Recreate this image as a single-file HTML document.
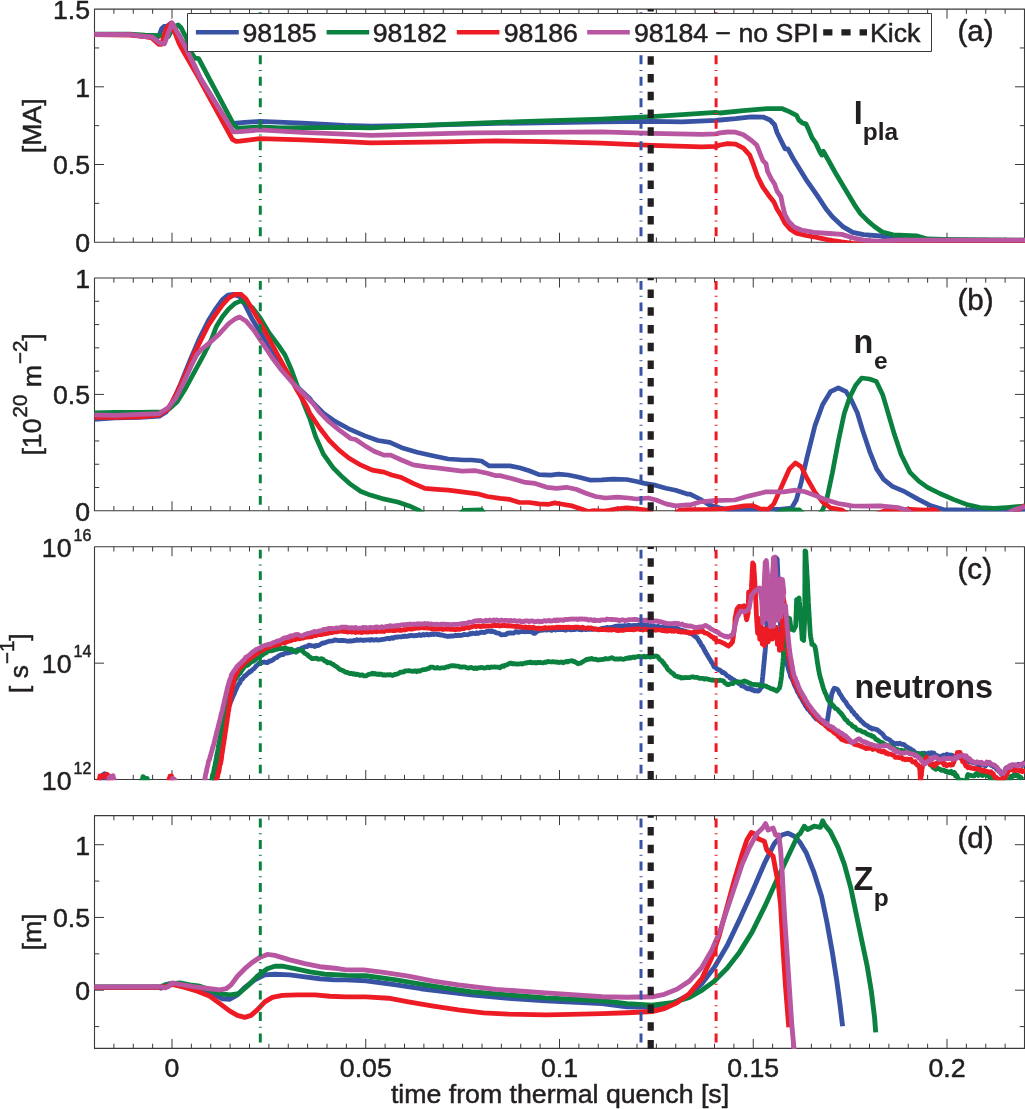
<!DOCTYPE html>
<html><head><meta charset="utf-8"><title>plot</title>
<style>html,body{margin:0;padding:0;background:#fff}svg{display:block}</style></head>
<body>
<svg width="1025" height="1109" viewBox="0 0 1025 1109" font-family='"Liberation Sans", sans-serif' fill="#231F20">
<g stroke="#231F20" stroke-width="0.5" stroke-linejoin="round">
<rect width="1025" height="1109" fill="#fff" stroke="none"/>
<clipPath id="c0"><rect x="94.5" y="9.1" width="931.0" height="233.7"/></clipPath>
<path d="M113.88 9.1v4.7M113.88 242.2v-4.7M133.25 9.1v4.7M133.25 242.2v-4.7M152.62 9.1v4.7M152.62 242.2v-4.7M172.00 9.1v9.5M172.00 242.2v-9.5M191.38 9.1v4.7M191.38 242.2v-4.7M210.75 9.1v4.7M210.75 242.2v-4.7M230.12 9.1v4.7M230.12 242.2v-4.7M249.50 9.1v4.7M249.50 242.2v-4.7M268.88 9.1v4.7M268.88 242.2v-4.7M288.25 9.1v4.7M288.25 242.2v-4.7M307.62 9.1v4.7M307.62 242.2v-4.7M327.00 9.1v4.7M327.00 242.2v-4.7M346.38 9.1v4.7M346.38 242.2v-4.7M365.75 9.1v9.5M365.75 242.2v-9.5M385.12 9.1v4.7M385.12 242.2v-4.7M404.50 9.1v4.7M404.50 242.2v-4.7M423.88 9.1v4.7M423.88 242.2v-4.7M443.25 9.1v4.7M443.25 242.2v-4.7M462.62 9.1v4.7M462.62 242.2v-4.7M482.00 9.1v4.7M482.00 242.2v-4.7M501.37 9.1v4.7M501.37 242.2v-4.7M520.75 9.1v4.7M520.75 242.2v-4.7M540.12 9.1v4.7M540.12 242.2v-4.7M559.50 9.1v9.5M559.50 242.2v-9.5M578.88 9.1v4.7M578.88 242.2v-4.7M598.25 9.1v4.7M598.25 242.2v-4.7M617.62 9.1v4.7M617.62 242.2v-4.7M637.00 9.1v4.7M637.00 242.2v-4.7M656.38 9.1v4.7M656.38 242.2v-4.7M675.75 9.1v4.7M675.75 242.2v-4.7M695.12 9.1v4.7M695.12 242.2v-4.7M714.50 9.1v4.7M714.50 242.2v-4.7M733.88 9.1v4.7M733.88 242.2v-4.7M753.25 9.1v9.5M753.25 242.2v-9.5M772.63 9.1v4.7M772.63 242.2v-4.7M792.00 9.1v4.7M792.00 242.2v-4.7M811.38 9.1v4.7M811.38 242.2v-4.7M830.75 9.1v4.7M830.75 242.2v-4.7M850.13 9.1v4.7M850.13 242.2v-4.7M869.50 9.1v4.7M869.50 242.2v-4.7M888.88 9.1v4.7M888.88 242.2v-4.7M908.25 9.1v4.7M908.25 242.2v-4.7M927.62 9.1v4.7M927.62 242.2v-4.7M947.00 9.1v9.5M947.00 242.2v-9.5M966.38 9.1v4.7M966.38 242.2v-4.7M985.75 9.1v4.7M985.75 242.2v-4.7M1005.13 9.1v4.7M1005.13 242.2v-4.7M94.5 164.50h9.5M1024.5 164.50h-9.5M94.5 86.80h9.5M1024.5 86.80h-9.5M94.5 203.35h4.7M1024.5 203.35h-4.7M94.5 125.65h4.7M1024.5 125.65h-4.7M94.5 47.95h4.7M1024.5 47.95h-4.7" stroke="#3a3a3a" stroke-width="1" fill="none"/>
<rect x="94.5" y="9.1" width="930.0" height="233.1" fill="none" stroke="#3a3a3a" stroke-width="1.1"/>
<g clip-path="url(#c0)">
<path d="M93.7 34.5L130 34.7L145 36.4L158.7 36.5L159.6 34.5L161.6 28.7L164 26.5L167 26.2L171.3 23.3L179.1 35.5L186.5 49.1L199.9 77.4L227.4 122.4L233.6 123.4L244.8 122.4L259.8 121.4L302.3 123.1L344.8 125.4L371 126.1L420.9 125.4L495.9 123.4L600.8 121.9L652 121.4L681.9 121.9L715.9 120.4L720 120L735.6 118.7L751.2 116.9L763.7 117.2L770 120L774.6 124.7L777 132.5L782.4 143.4L785.2 148.9L787.9 148.9L793.4 159L805.9 179.3L816.8 194.9L826.1 209L832.4 216.8L843.3 226.9L852.7 232.4L863.6 234.7L880 236L880.6 236.2L896.2 239L911.8 240.2L1025 240.5" fill="none" stroke="#3953A4" stroke-width="4.8" stroke-linejoin="round" stroke-linecap="butt"/>
<path d="M93.7 34.2L130 34.2L145 35.2L159.6 35.7L168.4 36.5L170.4 32.6L174.3 26.7L178.2 25L181.1 27.7L184 33.5L186.5 37.9L188.7 48.7L194.9 58.1L198.7 58.7L209.9 79.9L233.6 124.4L237.4 127.9L239.9 128.1L259.8 126.9L279.8 127.9L344.8 127.4L371 127.9L445.9 124.4L520.8 121.6L600.8 119.1L652 116.6L715.9 112.4L720 113L743.4 110.6L766.8 108.7L782.4 108.7L788.7 111.4L796.5 115.3L798.8 120L802.7 123.1L805.9 123.9L808.2 128.6L812.1 137.9L816 143.4L819.9 152L821.8 155.1L823.3 151.2L827.7 159L835.5 173L844.9 188.7L854.2 204.3L860.5 213.6L868.3 221.4L874.4 226.5L882.2 232L893.1 234.8L916.5 235.9L927.4 239L943 239.4L1025 240.2" fill="none" stroke="#0B8140" stroke-width="4.8" stroke-linejoin="round" stroke-linecap="butt"/>
<path d="M93.7 34.7L130 35L145 36.7L151.8 37.9L158.7 44.3L161.6 44.3L166.5 28.2L170.9 23.3L172.3 26.2L179.1 43.3L182.1 49.1L198.4 77.4L232.4 139.4L236.1 141.4L239.9 141.1L259.8 138.6L302.3 139.9L344.8 141.6L371 142.9L445.9 141.9L495.9 140.9L545.8 141.6L600.8 143.1L652 145.4L701.9 146.9L715.9 146.4L720 145L727.8 143.7L735.6 144.2L743.4 148.1L749.7 155.1L753.6 165.2L757.5 176.2L762.9 187.1L768.4 194.9L773.9 201.9L777 209L780.9 215.2L784.8 223L790.2 229.2L796.5 233.1L805.9 235.5L816.8 237.4L829.3 240.2L841.8 242L852.7 243.3L880 244.5L896.2 240.8L1025 240.8" fill="none" stroke="#ED1C24" stroke-width="4.8" stroke-linejoin="round" stroke-linecap="butt"/>
<path d="M93.7 34.5L130 34.7L145 36.5L152.3 37L159.6 42.8L164.5 43.8L172.1 22.8L179.1 35.5L186.5 49.1L199.9 77.4L233.6 131.9L239.9 131.6L259.8 129.9L302.3 132.4L344.8 134.1L371 135.4L470.9 132.9L600.8 131.9L652 133.4L701.9 134.4L715.9 133.9L720 132.9L727.8 132L735.6 132.2L743.4 134.8L751.2 140.3L756.7 145L759.8 152.8L762.9 160.6L766 163.7L767.6 171.5L771.5 179.3L774.6 184L777 191L780.9 196.5L782.4 204.3L784.8 214.4L788.7 221.4L794.1 226.9L801.2 230L813.7 232.4L829.3 233.5L841.8 234.4L852.7 237.8L863.6 240.2L880 241.4L896.2 240.2L1025 240.2" fill="none" stroke="#B856A1" stroke-width="4.8" stroke-linejoin="round" stroke-linecap="butt"/>
<line x1="260.3" x2="260.3" y1="242.2" y2="9.1" stroke="#0B8140" stroke-width="3" stroke-dasharray="1 5.9 8.9 5.7" stroke-dashoffset="0.9"/>
<line x1="641.0" x2="641.0" y1="242.2" y2="9.1" stroke="#3953A4" stroke-width="3" stroke-dasharray="1 5.9 8.9 5.7" stroke-dashoffset="0.9"/>
<line x1="716.1" x2="716.1" y1="242.2" y2="9.1" stroke="#ED1C24" stroke-width="3" stroke-dasharray="1 5.9 8.9 5.7" stroke-dashoffset="0.9"/>
<line x1="650.7" x2="650.7" y1="242.2" y2="9.1" stroke="#231F20" stroke-width="6.2" stroke-dasharray="8.5 9.24"/>
</g>
<clipPath id="c1"><rect x="94.5" y="278.0" width="931.0" height="233.4"/></clipPath>
<path d="M113.88 278.0v4.7M113.88 510.8v-4.7M133.25 278.0v4.7M133.25 510.8v-4.7M152.62 278.0v4.7M152.62 510.8v-4.7M172.00 278.0v9.5M172.00 510.8v-9.5M191.38 278.0v4.7M191.38 510.8v-4.7M210.75 278.0v4.7M210.75 510.8v-4.7M230.12 278.0v4.7M230.12 510.8v-4.7M249.50 278.0v4.7M249.50 510.8v-4.7M268.88 278.0v4.7M268.88 510.8v-4.7M288.25 278.0v4.7M288.25 510.8v-4.7M307.62 278.0v4.7M307.62 510.8v-4.7M327.00 278.0v4.7M327.00 510.8v-4.7M346.38 278.0v4.7M346.38 510.8v-4.7M365.75 278.0v9.5M365.75 510.8v-9.5M385.12 278.0v4.7M385.12 510.8v-4.7M404.50 278.0v4.7M404.50 510.8v-4.7M423.88 278.0v4.7M423.88 510.8v-4.7M443.25 278.0v4.7M443.25 510.8v-4.7M462.62 278.0v4.7M462.62 510.8v-4.7M482.00 278.0v4.7M482.00 510.8v-4.7M501.37 278.0v4.7M501.37 510.8v-4.7M520.75 278.0v4.7M520.75 510.8v-4.7M540.12 278.0v4.7M540.12 510.8v-4.7M559.50 278.0v9.5M559.50 510.8v-9.5M578.88 278.0v4.7M578.88 510.8v-4.7M598.25 278.0v4.7M598.25 510.8v-4.7M617.62 278.0v4.7M617.62 510.8v-4.7M637.00 278.0v4.7M637.00 510.8v-4.7M656.38 278.0v4.7M656.38 510.8v-4.7M675.75 278.0v4.7M675.75 510.8v-4.7M695.12 278.0v4.7M695.12 510.8v-4.7M714.50 278.0v4.7M714.50 510.8v-4.7M733.88 278.0v4.7M733.88 510.8v-4.7M753.25 278.0v9.5M753.25 510.8v-9.5M772.63 278.0v4.7M772.63 510.8v-4.7M792.00 278.0v4.7M792.00 510.8v-4.7M811.38 278.0v4.7M811.38 510.8v-4.7M830.75 278.0v4.7M830.75 510.8v-4.7M850.13 278.0v4.7M850.13 510.8v-4.7M869.50 278.0v4.7M869.50 510.8v-4.7M888.88 278.0v4.7M888.88 510.8v-4.7M908.25 278.0v4.7M908.25 510.8v-4.7M927.62 278.0v4.7M927.62 510.8v-4.7M947.00 278.0v9.5M947.00 510.8v-9.5M966.38 278.0v4.7M966.38 510.8v-4.7M985.75 278.0v4.7M985.75 510.8v-4.7M1005.13 278.0v4.7M1005.13 510.8v-4.7M94.5 394.40h9.5M1024.5 394.40h-9.5M94.5 487.52h4.7M1024.5 487.52h-4.7M94.5 464.24h4.7M1024.5 464.24h-4.7M94.5 440.96h4.7M1024.5 440.96h-4.7M94.5 417.68h4.7M1024.5 417.68h-4.7M94.5 371.12h4.7M1024.5 371.12h-4.7M94.5 347.84h4.7M1024.5 347.84h-4.7M94.5 324.56h4.7M1024.5 324.56h-4.7M94.5 301.28h4.7M1024.5 301.28h-4.7" stroke="#3a3a3a" stroke-width="1" fill="none"/>
<rect x="94.5" y="278.0" width="930.0" height="232.8" fill="none" stroke="#3a3a3a" stroke-width="1.1"/>
<g clip-path="url(#c1)">
<path d="M93.7 419.4L115 417.9L140 417.4L159.9 416.1L160 415.8L166.2 411.9L172.5 401.8L180.3 384.6L189.7 361.2L199 339.3L208.4 320.6L216.2 308.1L222.4 299.5L227.9 295.1L233.4 294.4L239.6 296.4L245.1 305L252.1 319L259.9 331.5L269.3 348.7L284.9 372.1L297.4 386.9L309.9 398.6L311.7 401.5L323.4 413.2L335.1 421.4L348.8 428.8L364.4 435.6L378 440.5L389.8 442.4L403.4 448.3L417.1 452.2L432.7 455.7L448.3 459L463.9 460L471.7 460L481.5 461L489.3 465.9L500 465.9L509.8 465.9L519.5 467.8L529.3 470.7L539 474.6L550.7 475.2L558.5 474.2L568.3 475L578 477L589.8 480.1L601.5 479.9L613.2 479.1L626.8 479.5L636.6 481.5L644.4 483.4L656.1 485.4L665.9 488.3L675.6 490.2L687.3 494.1L690 494.1L699.8 499L709.5 504.9L719.3 507.8L729 509.8L748.5 509.8L768 509.4L779.8 509.4L791.5 508.2L796.3 500L801.2 482.4L807.1 457.1L814.9 425.9L822.7 404.4L830.5 391.7L838.3 387.8L846.1 391.7L851.1 399.5L857.3 412.7L862.6 430.2L869.6 451.3L876.6 468.9L883.6 479.4L892.4 486.4L904.7 491.7L918.8 499.6L931 505.8L943.3 509.6L967.9 510.1L985.5 510.5L1025 511" fill="none" stroke="#3953A4" stroke-width="4.7" stroke-linejoin="round" stroke-linecap="butt"/>
<path d="M93.7 412.9L115 412.4L140 412.4L162.4 411.9L169.4 408.8L177.2 401.8L185 389.3L194.3 372.1L203.7 354.9L211.5 339.3L216.2 326.8L222.4 316.7L228.7 308.9L234.9 303.4L240.4 301.1L245.9 302.6L252.1 307.3L259.9 317.5L269.3 333.1L278.6 345.6L284.9 354.9L291.1 369L297.4 386.1L303.6 403.3L309.9 418.9L315.6 436.6L323.4 454.1L333.2 467.8L342.9 477.6L350.7 484.4L360.5 491.2L370.2 495.1L382 498.6L397.6 502L409.3 505.9L419 510.3L428.8 517.6L456.1 517.6L463.9 510.3L481.5 509.8L487.3 517.6L768 517.6L783.7 509.8L799.3 509.8L807.1 517.6L816.8 517.6L822.7 509.8L826.6 500L832.4 472.7L838.3 441.5L844.1 414.1L850 396.6L855.9 384.9L861.7 378L869.5 379L876.3 381.4L876.6 382L882.8 395.1L888 412.7L894.2 433.8L901.2 454.8L910 472.4L918.8 481.2L927.5 487.3L939.8 493.5L953.9 499.6L967.9 504.9L980.2 507.5L994.3 508.4L1006.6 507.5L1017.1 506.6L1025 506.1" fill="none" stroke="#0B8140" stroke-width="4.7" stroke-linejoin="round" stroke-linecap="butt"/>
<path d="M93.7 417.4L115 417.4L140 416.9L159.9 414.9L160 414.2L167.8 409.6L175.6 395.5L185 375.2L194.3 353.4L202.1 337.8L208.4 325.3L214.6 315.9L222.4 305L228.7 298L234.9 294.4L241.2 294.4L245.9 298.7L252.1 308.9L259.9 322.1L269.3 339.3L278.6 356.5L288 373.7L297.4 390.8L306.7 406.4L309.8 413.2L319.5 427.8L329.3 440.5L339 450.2L348.8 458L360.5 464.9L372.2 470.1L383.9 472.1L391.7 475L401.5 477.6L413.2 483.4L424.9 488.3L436.6 489.3L448.3 490.2L463.9 492.2L477.6 493.8L487.3 496.5L500 498.4L509.8 499.4L519.5 502.5L529.3 502.5L539 503.9L548.8 504.3L554.6 502.9L562.4 504.3L572.2 505.9L582 509.2L587.8 511.5L593.7 510.7L603.4 511.1L609.3 510.3L617.1 508.8L626.8 507.8L636.6 508.8L648.3 510.3L656.1 517.6L671.7 517.6L679.5 510.3L687.3 509.6L709.5 509.4L725.1 508.8L734.9 507.4L744.6 505.9L752.4 505.5L760.2 508.8L768 509.4L773.9 503.9L781.7 486.3L789.5 468.8L795.4 462.9L801.2 466.8L807.1 478.5L814.9 492.2L822.7 502L830.5 507.8L842.2 510.1L852 517.6L871.3 516.3L885.4 510.5L910 509.3L924 510.1L934.6 509.6L943.3 516.3L1011.8 516.3L1022.4 506.6L1025 505.8" fill="none" stroke="#ED1C24" stroke-width="4.7" stroke-linejoin="round" stroke-linecap="butt"/>
<path d="M93.7 414.9L115 415.4L140 414.4L159.9 413.6L160 412.7L167.8 408L175.6 398.6L183.4 383L191.2 365.9L196.7 354.9L201.4 349.5L210 342.4L219.3 333.9L228.7 323.7L234.9 319L239.6 317L245.9 320.9L253.7 330L263 344L272.4 358L281.8 370.5L292.7 383L303.6 394L313 403.3L319.5 412.2L329.3 422L339 429.8L350.7 438.5L355.6 439.5L364.4 445.4L374.1 451.2L383.9 455.1L390.7 455.1L401.5 460L413.2 464.9L426.8 466.8L436.6 467.8L448.3 469.4L462 471.1L475.6 470.7L487.3 473.3L495.1 475.6L500 475.6L511.7 478.5L525.4 482.4L535.1 483.4L546.8 487.3L556.6 488.3L566.3 487.3L576.1 489.3L585.9 493.2L595.6 496.5L605.4 498L617.1 497.1L628.8 498L636.6 499L648.3 498L656.1 500L665.9 503.9L675.6 505.9L687.3 504.9L690 504.9L699.8 502L713.4 500.6L734.9 500L748.5 496.1L766.1 491.8L783.7 491.8L795.4 490.2L805.1 491.8L816.8 496.1L826.6 500L838.3 503.5L852 505.9L862.6 506.1L880.1 505.8L897.7 507.5L906.5 510.1L915.2 515.4L1003 515.4L1013.6 510.1L1025 506.6" fill="none" stroke="#B856A1" stroke-width="4.7" stroke-linejoin="round" stroke-linecap="butt"/>
<line x1="260.3" x2="260.3" y1="510.8" y2="278.0" stroke="#0B8140" stroke-width="3" stroke-dasharray="1 5.9 8.9 5.7" stroke-dashoffset="0.9"/>
<line x1="641.0" x2="641.0" y1="510.8" y2="278.0" stroke="#3953A4" stroke-width="3" stroke-dasharray="1 5.9 8.9 5.7" stroke-dashoffset="0.9"/>
<line x1="716.1" x2="716.1" y1="510.8" y2="278.0" stroke="#ED1C24" stroke-width="3" stroke-dasharray="1 5.9 8.9 5.7" stroke-dashoffset="0.9"/>
<line x1="650.7" x2="650.7" y1="510.8" y2="278.0" stroke="#231F20" stroke-width="6.2" stroke-dasharray="8.5 9.24"/>
</g>
<clipPath id="c2"><rect x="94.5" y="546.8" width="931.0" height="233.35"/></clipPath>
<path d="M113.88 546.8v4.7M113.88 779.55v-4.7M133.25 546.8v4.7M133.25 779.55v-4.7M152.62 546.8v4.7M152.62 779.55v-4.7M172.00 546.8v9.5M172.00 779.55v-9.5M191.38 546.8v4.7M191.38 779.55v-4.7M210.75 546.8v4.7M210.75 779.55v-4.7M230.12 546.8v4.7M230.12 779.55v-4.7M249.50 546.8v4.7M249.50 779.55v-4.7M268.88 546.8v4.7M268.88 779.55v-4.7M288.25 546.8v4.7M288.25 779.55v-4.7M307.62 546.8v4.7M307.62 779.55v-4.7M327.00 546.8v4.7M327.00 779.55v-4.7M346.38 546.8v4.7M346.38 779.55v-4.7M365.75 546.8v9.5M365.75 779.55v-9.5M385.12 546.8v4.7M385.12 779.55v-4.7M404.50 546.8v4.7M404.50 779.55v-4.7M423.88 546.8v4.7M423.88 779.55v-4.7M443.25 546.8v4.7M443.25 779.55v-4.7M462.62 546.8v4.7M462.62 779.55v-4.7M482.00 546.8v4.7M482.00 779.55v-4.7M501.37 546.8v4.7M501.37 779.55v-4.7M520.75 546.8v4.7M520.75 779.55v-4.7M540.12 546.8v4.7M540.12 779.55v-4.7M559.50 546.8v9.5M559.50 779.55v-9.5M578.88 546.8v4.7M578.88 779.55v-4.7M598.25 546.8v4.7M598.25 779.55v-4.7M617.62 546.8v4.7M617.62 779.55v-4.7M637.00 546.8v4.7M637.00 779.55v-4.7M656.38 546.8v4.7M656.38 779.55v-4.7M675.75 546.8v4.7M675.75 779.55v-4.7M695.12 546.8v4.7M695.12 779.55v-4.7M714.50 546.8v4.7M714.50 779.55v-4.7M733.88 546.8v4.7M733.88 779.55v-4.7M753.25 546.8v9.5M753.25 779.55v-9.5M772.63 546.8v4.7M772.63 779.55v-4.7M792.00 546.8v4.7M792.00 779.55v-4.7M811.38 546.8v4.7M811.38 779.55v-4.7M830.75 546.8v4.7M830.75 779.55v-4.7M850.13 546.8v4.7M850.13 779.55v-4.7M869.50 546.8v4.7M869.50 779.55v-4.7M888.88 546.8v4.7M888.88 779.55v-4.7M908.25 546.8v4.7M908.25 779.55v-4.7M927.62 546.8v4.7M927.62 779.55v-4.7M947.00 546.8v9.5M947.00 779.55v-9.5M966.38 546.8v4.7M966.38 779.55v-4.7M985.75 546.8v4.7M985.75 779.55v-4.7M1005.13 546.8v4.7M1005.13 779.55v-4.7M94.5 663.17h9.5M1024.5 663.17h-9.5" stroke="#3a3a3a" stroke-width="1" fill="none"/>
<rect x="94.5" y="546.8" width="930.0" height="232.75" fill="none" stroke="#3a3a3a" stroke-width="1.1"/>
<g clip-path="url(#c2)">
<path d="M101 782.3L101.2 781.4L101.5 780.6L101.8 778.2L102 775.8L102.2 776.7L102.5 775.1L104.5 773.7L104.8 774.5L105 778.2L105.2 779L105.5 778.8L105.8 780.8L106 781.9M213.4 785.4L213.7 782L213.9 782.4L214.2 780.3L214.4 777L214.6 777.5L214.9 775.3L215.1 775L215.3 773.8L215.5 771.1L215.8 769.3L216 770.1L216.2 767.5L216.4 767.4L216.6 765.5L216.9 764.3L217.1 763.2L217.3 761.4L217.5 759.7L217.8 757.6L218 757.7L218.2 755.8L218.5 754.7L218.7 754.2L218.9 751.5L219.2 751.3L219.4 748.8L219.6 748.6L219.8 747.4L220.1 745.4L220.3 744.5L220.5 743.7L220.8 742L221 740.6L221.2 739L221.5 737.5L221.7 736.6L222 735.3L222.2 733.8L222.5 732.7L222.7 731.2L223 730.6L223.2 729.2L223.5 727.5L223.7 726.2L224 725.2L224.2 723.9L224.4 723.1L224.7 721.2L224.9 719.9L225.2 719.3L225.4 717.2L225.7 716.3L225.9 714.8L226.2 714.1L226.4 712.5L226.7 711.5L227.2 709.6L227.8 708.9L228.3 707.5L228.9 706.1L229.4 705.2L230 704L230.5 702L231.1 700.9L231.6 699.8L232.1 698.4L232.7 697L233.2 696L233.7 694.7L234.2 694L234.7 692.6L235.3 691L235.8 690L236.3 688.9L236.8 687.6L237.5 686.2L238.2 684.8L238.8 683.5L239.5 683.4L240.2 681.9L240.8 679.9L241.5 679.4L242.6 678.8L243.6 677.4L244.6 676L245.7 675.5L246.7 674.5L247.8 673.4L248.8 672.8L249.8 671.3L250.9 671.4L251.9 670.2L253 669.3L254 668.7L255 667.5L256.1 666.1L257.1 665.2L258.2 664.2L259.2 663.2L260.2 663.1L261.5 663L262.8 662.3L264.1 662L265.4 662.4L266.7 662.5L268 662.5L269.3 661L270.5 661.1L271.8 660.5L273 659.8L274.3 658.7L275.5 657.8L276.8 657.7L278 656.3L279.3 655.6L280.5 655L281.8 654.4L283.1 654.6L284.4 653.5L285.7 652.9L287 653.1L288.3 652.8L289.7 652.6L291.1 652.1L292.4 651.9L293.8 651.6L295.2 650.7L296.5 650.3L297.9 649.5L299.3 649.3L300.6 649L301.9 647.9L303.3 648L304.6 646.9L306 646.7L307.3 646.7L308.6 645.2L310.2 645.3L311.8 645.9L313.3 645.9L314.9 646.6L316.2 645.3L317.5 645.7L318.8 645.2L320.1 644.6L321.4 643.7L322.7 643L324 643.1L325.4 642.5L326.8 642L328.1 641.5L329.5 641.2L330.9 641.1L332.2 640.9L333.6 640.6L334.9 639.9L336.3 640.1L337.6 640.4L339 640.7L340.3 640.5L341.6 640.5L343 640.5L344.4 640.7L345.7 640.7L347.1 641.2L348.5 641.1L349.9 640.9L351.2 641L352.6 640.9L354 640.4L355.4 640.6L356.8 639.7L358.1 640.3L359.5 640.1L360.8 639.8L362.1 640.1L363.4 640.5L364.7 640L366 640.2L367.3 639.8L368.6 639.8L369.9 640.4L371.2 639.5L372.5 639.7L373.8 640.2L375.1 639.9L376.4 639.5L377.7 640.2L379 639.9L380.3 639.9L381.6 639.5L382.9 639.4L384.2 639.3L385.5 638.9L386.8 638.4L388.1 638.3L389.4 638.9L390.7 638.3L392 637.6L393.3 638.3L394.6 637.4L395.9 637L397.2 637.3L398.5 636.8L399.8 636.9L401.1 636.9L402.4 636.4L403.7 636.6L405 636L406.3 636.3L407.6 636.3L408.9 635.6L410.2 635.8L411.5 635.3L412.8 635.6L414.1 635.9L415.4 635.4L416.7 635.5L418 635.4L419.3 634.6L420.7 635.5L422 635.1L423.3 634.4L424.6 635.1L425.9 634.5L427.2 634.2L428.5 635L429.8 634.5L431.1 634.6L432.4 633.8L433.7 634.5L435 633.9L436.4 634.2L437.8 634.6L439.1 634.4L440.5 635.2L441.9 635L443.2 635.3L444.6 635.9L446 635.8L447.3 636.5L448.7 636.1L450 636.3L451.4 635.9L452.8 636.2L454.1 636L455.5 635.1L456.9 635.7L458.2 635.1L459.6 635.5L461 635.3L462.3 635.3L463.6 634.4L464.9 634.5L466.2 634.7L467.5 634.8L468.8 634.4L470.1 633.5L471.4 633.9L472.7 633.2L474 633.5L475.3 633.7L476.6 632.7L477.9 633.5L479.2 633L480.5 632.4L481.8 632.2L483.1 632.3L484.4 632.6L485.7 632.1L487 631.4L488.3 631.2L489.6 631.1L490.9 631.7L492.2 630.9L493.6 631.8L495 632L496.4 632.9L497.8 633.1L499.2 633.3L500.6 634.6L502 634.8L503.3 634.7L504.7 634.6L506 634.5L507.4 633.2L508.8 633.3L510.1 632.8L511.5 633L512.9 633.1L514.2 632.8L515.6 631.7L516.9 631.7L518.2 632.3L519.5 632.1L520.8 631.6L522.1 631.6L523.4 631.2L524.7 631.8L526 631.2L527.3 631.6L528.6 631.7L529.9 631.4L531.2 632L532.5 632.2L533.8 633.3L535.1 633.3L536.3 631.9L537.6 631.3L538.8 630.8L540 630.2L541.3 630.3L542.6 630L543.9 630L545.2 629.5L546.5 630.1L547.8 629.8L549.1 629.4L550.4 629.9L551.7 630.4L553 629.4L554.3 629.4L555.6 630L556.9 629.5L558.2 629.4L559.5 629.7L560.8 629.4L562.1 629.7L563.4 629.6L564.7 630.1L566 630.1L567.3 629L568.6 629.5L569.9 629.7L571.2 629.8L572.5 629.7L573.8 629.5L575.1 629.5L576.4 629.2L577.7 629.1L579 629.6L580.3 629.7L581.6 629.8L582.9 629.5L584.2 629.1L585.5 629.6L586.8 629.5L588.1 629.3L589.4 629.4L590.7 629.1L592 629.3L593.3 629.2L594.6 628.8L595.9 629.1L597.2 629.1L598.5 629.8L599.8 629.1L601.1 628.7L602.4 628.4L603.7 628.2L605 628.1L606.3 627.7L607.6 627.4L608.9 628.1L610.2 627.5L611.5 627.3L612.8 627.2L614.1 626.7L615.4 626.4L616.7 626.1L618 626.1L619.3 625.9L620.7 626.2L622 625.8L623.3 626.2L624.6 625.5L625.9 626.2L627.2 625.8L628.5 625.2L629.8 625.3L631.1 625.7L632.4 626.1L633.7 625.4L635 625.8L636.3 625.4L637.6 625.9L638.9 625L640.2 625.4L641.5 625.9L642.8 625.2L644.1 625.1L645.4 624.8L646.7 625.1L648 625.4L649.3 626L650.6 625.5L651.9 625.9L653.2 625.8L654.5 626.3L655.8 626.7L657.1 626.6L658.4 626.3L659.7 627L661 627.3L662.3 627.1L663.6 626.6L664.9 627.5L666.2 627.7L667.5 627.3L668.8 627.2L670.1 627.3L671.4 627.8L672.7 628.3L674 628.2L675.3 628.6L676.6 628L677.9 628.6L679.2 629.5L680.5 629.9L681.8 630.1L683.1 630.9L684.4 631L685.7 631.2L687 632.1L688.3 632.2L689.6 633.3L690.9 633.5L692.2 634.1L693.4 635.2L694.5 635.8L695.7 637L696.9 637.5L698 639.5L698.7 640.2L699.3 641.8L700 642L700.7 643.7L701.3 645L702 645.7L702.6 646.5L703.3 647.8L703.9 648.9L704.6 650.7L705.2 651.1L705.9 653L706.6 653.8L707.3 655L708 656.2L708.7 657.4L709.4 658.6L710.1 659.7L710.8 660.6L711.5 662.2L712.2 662.8L712.9 664.4L713.7 665.7L714 666.8L715.2 667.1L716.4 668.4L717.6 669.4L718.7 669.6L719.9 670.2L721.1 671.2L722.2 672.5L723.4 672.4L724.5 673L725.6 674.3L726.7 675.3L727.8 676.2L728.9 676.5L730 678L731.1 677.9L732.2 679.3L733.2 679.4L734.3 680.1L735.6 681L736.8 681.7L738 682.9L739.2 683.8L740.4 684.1L741.6 685.8L742.8 685.9L744.1 686.4L745.3 687.3L746.6 688.3L747.9 688.9L749.2 688.4L750.5 688.7L751.8 689.9L753.1 689.7L754.4 690.8L755.8 690.6L757.2 691L758.5 691L759.3 690.4L760.1 689L760.9 687.7L761.7 687.3L761.8 685.1L761.9 684.5L762 682.4L762.2 681.8L762.3 680.2L762.4 679.4L762.6 677.2L762.7 676.5L762.8 675L763 674.3L763.1 673L763.2 671.4L763.3 669.6L763.5 668.3L763.6 667.1L763.7 665.9L763.9 664.4L764 663.1L764.1 662.4L764.2 660.9L764.4 659.2L764.5 658.7L764.6 656.5L764.7 655.6L764.8 653.8L765 653.2L765.1 651.9L765.2 650L765.3 649.2L765.4 647.9L765.6 646L765.6 644.7L765.7 643.6L765.8 642.7L765.9 640.6L766 639.9L766.1 638.5L766.1 637L766.2 635.8L766.3 634.9L766.4 632.8L766.5 632.2L766.6 630.4L766.7 629.5L766.7 628.3L766.8 626.2L766.9 625.7L767 624.5L767.1 622.4L767.2 620.8L767.2 619.6L767.3 619.2L767.5 616.8L767.7 616.5L767.9 614.3L768.1 613.6L768.3 611.5L768.5 610.3L768.7 609.5L768.9 607.5L769.1 606.4L769.3 605.7L769.5 604.1L769.7 603L769.9 601.7L770.2 599.3L770.4 598.2L770.5 597.5L770.6 596.1L770.7 594L770.9 593.2L771 591.6L771.1 590.5L771.3 588.8L771.4 587.4L771.5 587.2L771.7 585.1L771.8 584.4L771.9 582.3L772.1 581.4L772.2 579.7L772.3 578.7L772.5 577.1L772.6 576.3L772.7 574.4L772.9 573.7L773 572.2L773.1 570.4L773.3 569.4L773.4 568.2L773.7 567.4L774 565.5L774.3 564.1L774.6 563.7L775 562.3L775.3 560.9L775.6 559.1L775.9 557.7L777.2 558.9L777.3 560L777.3 561.3L777.4 563.1L777.4 564.3L777.5 565.8L777.5 566.9L777.6 567.8L777.7 569.9L777.7 571.2L777.8 572.4L777.8 573.7L777.9 575.2L777.9 576.8L778 578L778.1 579.2L778.1 580.2L778.2 581.5L778.2 582.9L778.3 584.9L778.4 585.6L778.4 586.9L778.5 588.3L778.6 589.4L778.6 591.6L778.7 591.9L778.8 593.9L778.8 595.6L778.9 596.2L778.9 598L779 599L779.1 600.2L779.1 601.5L779.2 602.8L779.3 604.9L779.3 606.2L779.4 607.7L779.4 608.1L779.5 610.1L779.6 611L779.7 612.7L779.8 613.9L779.9 615L780 617L780.1 617.3L780.1 619.4L780.2 620.9L780.3 621.8L780.4 623.2L780.5 625L780.6 625.4L780.7 627.2L780.8 628.6L780.8 629.6L780.9 631.2L781 632.2L781.1 633.7L781.2 635.1L781.3 636.5L781.4 637.4L781.5 639.1L781.6 640.3L781.8 641.4L782 643.2L782.2 644.2L782.4 646.2L782.6 647.1L782.8 648.8L782.9 650L783.1 651.3L783.3 652.4L783.5 653.7L784.2 656.1L784.9 657.2L785.5 658.8L785.9 660.1L786.3 661.7L786.7 662.4L787.1 663.7L787.5 665.7L787.8 666.6L788.2 668.1L788.6 669.7L789 671.1L789.4 672.3L789.8 672.8L790.2 674.5L790.5 676.3L791.1 677.5L791.7 678L792.2 679.4L792.8 680.7L793.4 681.9L793.9 683.4L794.5 685.2L795.1 686.1L795.6 687.3L796.2 688.2L796.8 689.8L797.4 691.6L798 692.5L798.7 693.3L799.3 694.5L799.9 696L800.5 697.1L801.2 697.6L801.8 699.3L802.4 700.1L803 701.4L803.6 702.3L804.3 703.5L804.9 704.7L805.5 705.8L806.1 706.6L807 707.8L807.8 709.2L808.7 709.6L809.6 710.7L810.4 712.3L811.3 712.8L812.1 713.9L813 714.8L813.8 716.4L814.7 716.6L815.5 718.2L816.6 719.2L817.7 719.3L818.9 720.3L820 721.5L821.1 722.1L822.2 722.6L823.3 723L824.6 722.7L825.9 721.8L827.2 721.4L827.5 719.5L827.7 718.3L827.9 717.1L828.2 715.9L828.4 714L828.6 712.6L828.9 711.4L829.1 710.4L829.3 708.2L829.6 707.6L829.8 706L830 704.2L830.3 703.1L830.5 701.3L830.7 699.6L831 699L831.2 697.2L831.4 695.9L831.7 694.5L831.9 693.5L832.5 692.2L833.1 690.2L833.7 689.7L834.2 688.3L835.8 688.7L837.4 689.5L838.1 690.4L838.9 691.9L839.7 693.7L840.5 694.6L841.2 695.8L842 696.9L842.7 698.4L843.5 699.3L844.2 700.5L845 701.3L845.8 702L846.6 703.8L847.3 704.7L848.1 706L848.9 707.1L849.7 707.4L850.5 708.6L851.2 709.5L852 711.4L852.9 711.6L853.8 712.6L854.7 714.2L855.5 715L856.4 715.4L857.3 717.1L858.2 718.1L859 718.8L859.9 719.3L860.8 720.9L861.9 721.5L863 722.6L864.1 723.9L865.2 724.6L866.3 725.5L867.4 725.6L868.5 726.7L869.6 727.8L870.8 727.6L872.1 729L873.3 728.6L874.6 729L875.9 729.4L877.1 729.7L878.4 730.8L879.4 731.5L880.4 732.4L881.4 733.3L882.4 733.9L883.4 735.2L884.4 736.8L885.4 737.7L886.5 738.6L887.6 738.7L888.7 739.4L889.8 739.9L890.9 741.3L892 741.9L893.1 742.7L894.2 743.5L895.6 743.7L897 743.4L898.4 744L899.8 743.2L901.2 744.1L902.4 744.4L903.7 744.4L905 745.5L906.2 746.6L907.5 747.2L908.7 748.2L910 748.5L911.1 749.2L912.3 750.8L913.5 750.7L914.7 752.1L915.8 753L917 753.4L918.5 753.3L919.9 754.3L921.4 753.6L922.9 754.5L924.3 753.1L925.8 754L927.2 754.2L928.6 752.9L930 754.2L931.4 752.6L932.8 753.4L934 753.2L935.1 755.2L936.3 755.1L937.5 756.1L938.7 756.1L939.8 757.1L941.2 756.7L942.6 755.6L944 755.1L945.4 756L946.9 754.3L948.3 756L949.7 755L951.1 755.1L952.5 755.3L953.9 756.9L955.3 757.5L956.7 756.7L958.1 757.4L959.5 756.9L960.9 758.4L962.2 758.4L963.5 757.8L964.9 758L966.2 759.8L967.5 759.2L968.8 761.6L970.1 761.2L971.4 761.8L972.8 762.8L974.2 762.5L975.7 763.3L977.1 762.7L978.5 764.7L979.9 763.6L981.3 765L982.7 763.6L984.1 765.3L985.5 765.9L987.2 763.9L989 762.4L990.2 764L991.3 765.4L992.5 765.2L993.7 766.8L994.9 766.5L996 768.2L997 769.8L998 769.9L999 771.5L1000 770.9L1001 773.7L1002 772.7L1003 775.8L1003.6 774.8L1004.2 773.3L1004.8 771L1005.4 769.2L1006 768.1L1006.6 767.9L1008 767L1009.4 767.7L1010.8 765.5L1012.2 766.1L1013.6 766.7L1015 766L1016.4 765.7L1017.8 764.5L1019.2 764.5L1020.6 764.6L1022.1 765.6L1023.5 765L1025 763.1" fill="none" stroke="#3953A4" stroke-width="4.8" stroke-linejoin="round" stroke-linecap="butt"/>
<path d="M141 784.2L141.5 780.1L142 780.3L142.5 779.9L143 776.6L145 778.3L146 778.8L147 778.4L148 780.5L148.5 782.4L149 783.3M211.1 785.2L211.3 781.9L211.6 782L211.9 779L212.2 776.9L212.5 777L212.8 774.3L213.1 774.2L213.4 773.4L213.7 771.5L214 769.8L214.4 767.4L214.7 767.2L215 764.9L215.2 764.9L215.4 762.4L215.7 762.1L215.9 760.4L216.1 759.1L216.4 758.4L216.6 756.2L216.8 754.9L217 755L217.3 752.7L217.5 752.3L217.7 751L218 749.1L218.2 747.3L218.4 745.9L218.6 745.8L218.9 743.4L219.1 742.6L219.4 741.3L219.7 739.4L219.9 738.5L220.2 736.8L220.4 735.9L220.7 734.5L221 733L221.2 731.4L221.5 730.3L221.7 728.7L222 727.3L222.3 726.1L222.5 725.4L222.8 723.7L223.1 722.8L223.4 720.6L223.7 720.3L224 718.6L224.2 717.6L224.5 716.1L224.8 715L225.1 713.2L225.4 712.5L225.7 710.6L226 709.4L226.3 707.9L226.6 707.1L226.9 705.9L227.2 704.4L227.5 703.8L227.8 701.6L228.2 700.9L228.6 699.2L228.9 698.3L229.3 697.3L229.7 695.9L230 693.9L230.4 692.8L230.8 691.9L231.1 691L231.5 688.7L231.9 688.1L232.2 686.9L232.6 685.7L233 683.9L233.3 683.1L233.7 681.5L234.5 680.9L235.3 678.9L236 678.8L236.8 677.2L237.6 676.1L238.4 674.7L239.2 673.8L240 673.3L240.7 672.2L241.5 670.5L242.3 669.7L243.1 668.4L243.9 667.4L244.6 666.4L245.7 665.7L246.9 665.6L248 664.9L249.1 663.9L250.2 662.8L251.3 662L252.4 661.5L253.6 661L254.7 660.2L255.8 659.4L256.9 658.2L258 658L259.1 657.6L260.2 656.9L261.4 655.3L262.5 655.2L263.6 654L264.7 653L265.8 653.1L266.9 652L268 651.3L269.4 650.3L270.7 650.8L272.1 650.6L273.4 650.2L274.7 649.7L276.1 649.4L277.4 649.1L278.7 648.7L280 648.4L281.3 648.7L282.6 648.5L283.9 648.5L285.2 647.7L286.8 648.8L288.3 648.8L289.9 649.6L291.5 649.1L292.6 650.6L293.8 651L295 651L296.1 652.2L297.7 650.9L299.3 650.3L300.8 649.9L302 650.5L303.2 651.7L304.3 653L305.5 653.6L306.6 654.4L307.6 654.9L308.6 656.1L309.7 656.9L310.7 657.5L311.8 658.6L313.3 658.7L314.9 658.4L316.4 658.2L318 659L319.6 659.2L321.1 658.7L322.7 659L323.9 660.2L325 661.2L326.2 661.3L327.4 662.8L328.9 662.5L330.5 662.9L332 663.9L333.1 664.3L334.1 665.2L335.2 665.9L336.2 666.5L337.3 667.1L338.3 668.1L339.5 669.3L340.8 669.8L342 670.2L343.3 670.7L344.5 671.6L346 672.4L347.4 672.5L348.8 673.2L350.3 673.7L351.7 673.3L353.1 674.2L354.4 673.6L355.8 674.7L357.2 674.2L358.5 674.5L359.9 675.4L361.3 675L362.6 675L364 675.9L365.4 675.8L366.7 675.6L368.1 674.6L369.5 674.2L370.8 674.2L372.2 673.2L373.6 674L374.9 673.4L376.3 674.4L377.7 673.9L379 674.6L380.4 674L381.8 674.3L383.1 675.2L384.5 674.7L385.9 675.2L387.2 674.6L388.6 674.8L390 674.6L391.3 675.1L392.7 675.5L393.9 674.7L395.2 674.2L396.4 674.4L397.6 673.9L398.9 673.3L400.1 672.2L401.4 672.4L402.6 671.8L403.9 672L405.1 670.9L406.3 670.8L407.6 670.8L408.9 670.6L410.2 670.9L411.5 671.1L412.8 671.4L414.1 671L415.4 670.9L416.7 671.7L418 670.7L419.4 671.2L420.8 670.6L422.1 670.1L423.5 669.6L424.9 669.5L426.2 669.3L427.6 668.7L429 668.4L430.3 667.2L431.7 667.1L433.1 667.1L434.5 668.1L435.9 668.2L437.3 667.5L438.7 668.1L440.1 668.2L441.5 667.8L442.8 667.8L444.1 667.9L445.4 667.5L446.7 666.8L448 667L449.3 666.1L450.6 666.1L451.9 665.6L453.2 665.9L454.5 665.7L455.8 666.1L457.1 666.2L458.4 666.1L459.7 667L461 666.9L462.3 667.1L463.6 666.9L464.9 666.9L466.2 667.5L467.5 667.9L468.8 668L470.1 667.6L471.4 667.5L472.7 668L474 668.5L475.3 667.8L476.6 668.6L477.9 667.8L479.2 667.9L480.5 667.5L481.8 667.6L483.1 667.6L484.4 668.2L485.7 668L487 667.1L488.3 667.1L489.6 667.8L490.9 667L492.2 667.1L493.5 667.2L494.8 666.9L496.1 667.1L497.4 667.2L498.7 667.2L500 667.8L501.2 666.6L502.4 666L503.7 666.3L504.9 665.3L506.1 665.2L507.3 664.5L508.5 664.2L509.8 663.2L511.1 663.1L512.5 663.9L513.9 663.6L515.3 663.8L516.7 664L518.1 664.2L519.5 663.8L520.9 663.6L522.3 664L523.7 663.4L525.1 662.9L526.5 663L527.9 662.4L529.3 662.7L530.6 662L532 662.9L533.3 662.7L534.6 662.5L536 663.2L537.3 662.5L538.7 662.5L540 662.4L541.3 662.7L542.6 662.8L543.9 662.6L545.2 662.1L546.5 662.4L547.8 661.5L549.1 661.6L550.4 661.8L551.7 662L553 661.7L554.3 661.9L555.6 662.1L556.9 661.8L558.2 662.5L559.5 662.4L560.8 662L562.1 662.2L563.4 662.8L564.9 661.9L566.3 661.4L567.8 661.9L569.3 661.2L570.7 660.8L572.2 660.7L573.4 661.6L574.5 661.5L575.7 662.4L576.9 662.8L578 663.9L579.2 663.4L580.4 663.2L581.6 662.4L582.8 661.7L584 660.9L585.2 660.4L586.4 659.5L587.6 659.5L588.8 658.9L590.2 659L591.6 658.4L593 659.1L594.4 659.4L595.7 659.2L597.1 659.8L598.5 660L599.9 659.6L601.3 659.6L602.6 659.3L604 659.4L605.4 658.4L606.7 658.9L608.1 658.8L609.5 658.5L610.8 658L612.2 657.7L613.7 658.6L615.1 659.2L616.6 658.9L618 659.2L619.4 659L620.8 658.7L622.2 659.1L623.6 659.3L625 658.9L626.4 658.2L627.8 658.4L629.2 657.5L630.5 658.2L631.9 657.5L633.3 657L634.6 657.5L636 656.8L637.4 656.8L638.7 656.4L640.1 656.7L641.5 656.6L642.9 657L644.3 656.2L645.6 657.1L647 656.4L648.4 656.6L649.8 657.1L651.2 656.8L652.7 656.5L654.1 656.6L655.6 655.9L657.1 656.3L658 656.8L659 658.5L660 659.6L661 660.3L662 660.8L662.9 662.7L663.8 663L664.6 664.7L665.4 665.7L666.3 666.4L667.1 668.2L667.9 669.4L668.8 670.3L670 671.1L671.1 672.2L672.3 673.3L673.5 673.8L674.6 675.5L675.9 676.2L677.2 676.4L678.5 677.1L679.8 676.9L681.1 678.1L682.4 677.6L683.8 677.9L685.2 677.4L686.6 677.6L688 677.7L689.4 677.6L690.8 677.2L692.2 676.9L693.6 676.9L694.9 677.4L696.3 677.4L697.7 677.5L699 678.3L700.4 678.3L701.8 678.4L703.1 678.3L704.5 679.1L705.9 678.7L707.3 678.9L708.7 679.4L710.1 679.7L711.6 680.1L713 680L714.4 680.4L715.9 680.5L717.3 680.4L718.7 680.5L720.3 680.2L721.9 680.7L723.4 680.8L724.6 682.7L725.8 683.4L726.9 684.2L728.1 684.7L729.3 684.3L730.6 683.6L731.8 683.6L733.1 683.5L734.3 682.2L735.8 681.8L737.2 681.8L738.7 681.8L740.1 682.3L741.6 682L743 681.5L744.5 680.9L745.9 681.4L747.3 681.9L748.7 683.1L750.1 683.2L751.5 684.2L752.8 684.4L754.1 684.6L755.4 684.5L756.7 685.1L758 684.6L759.3 684.8L760.6 685.5L761.9 685.7L763.2 685.6L764.5 685.8L765.8 685.8L767.1 687L768.7 687.4L770.2 688.3L771.8 688.9L773 688.9L774.1 689.8L775.3 690L776.5 691.1L777.5 690.3L778.6 688.8L779.6 687.9L779.8 686.7L780.1 685.8L780.3 684.2L780.5 682.5L780.7 682.1L780.9 680.7L781.2 679L781.3 677.2L781.4 676.9L781.6 675.2L781.7 673.3L781.8 672.3L782 671.4L782.1 670.3L782.2 668.6L782.3 667.5L782.5 665.7L782.6 664.4L782.7 663.9L782.9 662L783 660.4L783.1 659.6L783.3 657.8L783.4 656.6L783.5 655.6L783.6 654.4L783.8 653.2L783.9 651.9L784 650.3L784.2 648.6L784.3 648.1L784.4 646L784.6 645.2L784.7 643.8L784.8 642.8L784.9 641.5L785.1 639.7L785.2 638.8L785.3 637.5L785.3 636L785.4 634.3L785.5 633.8L785.6 632.1L785.7 630.2L785.8 629.1L785.9 628.6L786 626.4L786.1 625.2L786.2 624.3L786.2 623.1L786.3 621.5L786.4 620.3L786.5 618.2L788 617.8L789.5 618.2L789.7 619.4L789.9 620L790.1 621.4L790.3 623L790.5 625.1L790.7 625.7L790.9 627.6L791.1 629.3L792.3 629.5L793.6 630.3L794.6 628L795.6 626.4L795.7 624.9L795.7 624.3L795.8 622.3L795.8 621.9L795.9 620.2L795.9 618.3L796 617.6L796 615.5L796.1 614.5L796.1 612.7L796.2 612.1L796.2 610.9L796.3 609.5L796.3 607.1L796.4 606.7L796.4 605L796.5 604L796.5 602.2L796.6 601L796.6 599.6L797.9 599.3L799.1 598L799.2 599.4L799.3 601.2L799.4 602.3L799.5 603.8L799.6 604.7L799.7 606.9L799.8 607.4L799.9 609.6L800.1 611L800.2 611.9L800.3 612.9L800.4 614.8L800.5 615.7L800.6 617.3L800.7 618.3L800.8 620.6L800.9 621.5L801 622.6L801.1 623.6L801.2 625.7L801.3 627.2L801.4 628.5L801.5 629L801.6 630.7L801.7 632L801.8 633.8L801.9 634.5L802 636.3L802.1 638.1L802.2 639.2L803.7 640.4L803.7 639.2L803.8 637.9L803.9 637.2L803.9 635.8L804 634.4L804 633L804.1 631.7L804.2 630.6L804.2 629.3L804.3 628.3L804.3 626.8L804.4 625.6L804.5 624.4L804.5 623L804.6 621.6L804.6 619.5L804.7 618.9L804.7 617.8L804.7 616L804.7 615.2L804.7 613.1L804.7 612.7L804.7 610.8L804.7 609.8L804.7 608L804.7 606.8L804.8 605.5L804.8 604.2L804.8 602.6L804.8 601.7L804.8 601L804.8 599.4L804.8 598.4L804.8 596.9L804.8 595.7L804.8 594.5L804.8 593L804.8 591.1L804.8 589.8L804.8 588.7L804.8 586.9L804.8 585.9L804.8 585.3L804.9 584L804.9 582.1L804.9 581.3L804.9 580L804.9 578.8L804.9 577.4L804.9 575.8L804.9 574L804.9 573.5L804.9 571.6L804.9 570.7L804.9 569.1L804.9 568L804.9 567.2L804.9 565L804.9 564.1L804.9 562.9L805 561.5L805 560.6L805 558.7L805 558L805 556.4L805 555.4L805 553.2L805 552L805 550.8L805.7 551.5L805.8 551.8L805.9 553.4L805.9 555.2L806 556.8L806.1 557.2L806.1 558.8L806.2 560.3L806.3 561.6L806.4 563L806.4 564.3L806.5 565L806.6 566.3L806.6 567.4L806.7 569.4L806.8 570.2L806.9 571.5L806.9 573.6L807 574.6L807.1 575.8L807.2 577.2L807.2 578.4L807.3 579.8L807.4 580.7L807.4 581.8L807.5 583.1L807.6 584.4L807.6 586.1L807.7 587.1L807.7 588.4L807.8 590.2L807.9 592L807.9 593L808 593.9L808.1 595.7L808.1 596.4L808.2 597.6L808.3 599.2L808.3 600.6L808.4 602.2L808.5 603.3L808.5 604.9L808.6 605.5L808.7 607.8L808.7 608.4L808.8 610.3L808.9 610.7L809 613L809.1 613.6L809.1 615.6L809.2 616.9L809.3 618.1L809.4 619L809.5 620L809.5 621.6L809.6 623.7L809.7 624.2L809.8 626.1L809.9 627.3L809.9 628.7L810 629.5L810.1 630.8L810.2 632.1L810.3 634.4L810.5 635.2L810.7 636.9L810.9 638.3L811.1 639.3L811.3 640.6L811.6 642L811.8 644.3L813.3 644.6L814.8 646.5L815.1 647.2L815.3 648.9L815.6 649.6L815.8 651.7L816.1 652.4L816.3 653.9L816 652.5L815.8 650.5L815.5 649.1L815.7 651.1L815.9 651.9L816.1 653.3L816.3 655.1L816.5 655.9L816.7 657.2L816.9 658.6L817.1 660.2L817.3 661.5L817.5 663.3L817.8 664.5L818 666.3L818.2 666.8L818.5 668.9L818.7 670.5L818.9 671.2L819.2 672.4L819.4 674.3L819.8 675.2L820.1 676.9L820.5 678.4L820.8 679L821.2 680.3L821.5 682L821.9 682.9L822.3 684.3L822.6 685.8L823 686.7L823.3 687.9L823.8 689.5L824.4 690.8L824.9 692.5L825.4 693.3L825.9 694L826.4 695.4L827 697.2L827.5 698.2L828 699.7L828.9 700.9L829.8 701.9L830.7 702.2L831.6 704.3L832.5 704.9L833.4 705.7L834.2 706.8L835.3 708.4L836.3 708.6L837.4 709.4L838.4 710.5L839.4 712.1L840.5 712.5L841.2 713.9L842 714.2L842.7 715.7L843.5 716.6L844.2 717.6L845 719.2L846.1 719.9L847.1 720.7L848.2 722.7L849.2 723.2L850.3 723.9L851.4 724.6L852.6 726.2L853.8 726.9L855 727.2L856.1 728.6L857.3 729.8L858.5 730.1L859.8 730.2L861.1 731L862.3 731.6L863.6 732.2L864.8 732.1L866.1 733.4L867.2 734.1L868.4 734.5L869.6 735.2L870.8 735.2L871.9 736.4L873.1 736.2L874.1 737.1L875.1 738.4L876.2 739.6L877.2 739.6L878.2 740.6L879.2 741.2L880.5 742.3L881.7 742.4L882.9 743L884.2 744.3L885.4 744.6L886.6 745.6L887.8 745.4L889.1 746.3L890.3 745.8L891.5 747.7L892.8 747.2L894 748.1L895.2 748.7L896.5 749.9L897.7 749.7L899 750.8L900.3 750.6L901.6 750.2L903 751.6L904.3 750.8L905.6 752.5L906.9 751.9L908.2 751.9L909.5 753.5L910.9 752.7L912.2 753.2L913.5 753.4L914.8 754.3L916.1 753.4L917.4 754.4L918.8 754.3L920.5 755.1L922.3 753.2L923.1 755.3L924 755.7L924.9 757.1L925.8 758.3L926.7 759.7L927.5 759.5L928.4 760.9L929.3 761.7L930.2 764.8L931 764.1L931.9 765.2L932.8 767.3L934.2 768L935.6 769.3L937 767.7L938.4 768.7L939.8 769.1L941.2 770.3L942.6 770.1L944 770.2L945.4 771.6L946.9 771.2L948.3 772.1L949.7 772.7L951.1 771.2L952.5 773.4L953.9 772.3L954.6 772.5L955.4 775.9L956.1 774.8L956.9 775.7L957.6 777.6L958.4 778.7L959.1 781.8L960.6 781.5L962 780.2L963.4 780.5L964.8 781.5L966.2 781.3L966.6 779.6L967 777.8L967.5 775.4L967.9 774.5L969.2 775.5L970.6 775.2L971.9 775.7L973.2 775.8L974.5 775.9L975.8 773.7L977.1 773.2L978.5 775.4L979.8 774.7L981.1 773.9L982.4 775.5L983.7 774.5L985 774.7L986.4 775.2L987.7 775.9L989 776.5L989.9 776.3L990.8 779.7L991.6 780.8L993 780.4L994.4 780.9L995.8 781.3L997.2 779L998.6 780.4L1000 781L1001.4 781L1002.8 780.9L1004.1 779.5L1005.5 781.8L1006.9 781.3L1008.3 779.7L1009.2 779.2L1010.1 779.7L1011 776.5L1011.8 776.1L1012.7 776.6L1013.6 775.4L1014.9 774L1016.2 775.8L1017.5 775.2L1018.9 776.5L1019.7 777.9L1020.6 777.2L1021.5 778.5L1022.4 779.6" fill="none" stroke="#0B8140" stroke-width="4.8" stroke-linejoin="round" stroke-linecap="butt"/>
<path d="M98 784.2L98.4 782L98.8 780.8L99.2 779.3L99.6 778.8L100 775.9L101.5 776.4L103 775.5L105 777L107 774.3L109 776.1L109.4 777.2L109.8 777.9L110.2 779.2L110.6 781.9L111 781.8M168.5 784.2L168.8 780.7L169.1 779L169.4 778L169.7 779L170 776.1L171.5 776L171.8 777.1L172 778.7L172.2 782.1L172.5 783.4M215.8 785.1L216 783.6L216.3 779.9L216.5 779.8L216.9 777.9L217.2 777.9L217.5 776.6L217.8 775.5L218.2 772L218.5 772.9L218.8 771.7L219.1 770.5L219.5 767.1L219.8 766.1L220.1 764.6L220.4 763.2L220.6 763.7L220.8 762.3L221.1 760.6L221.3 759.7L221.5 757.9L221.7 755.9L221.9 754.3L222.1 753L222.3 752.9L222.5 750.6L222.7 749.5L222.9 748.4L223.1 746.4L223.3 745.5L223.5 744.2L223.7 743.5L223.9 741.7L224.1 740.4L224.3 739.8L224.5 737.9L224.7 737L224.9 735.4L225.1 733.4L225.3 732.5L225.5 731.2L225.7 730.3L225.9 728.5L226.1 727.6L226.3 726L226.5 724.4L226.7 723.7L226.9 721.6L227.1 721L227.3 719L227.5 717.5L227.7 716.4L227.9 715.7L228 714.6L228.2 712.2L228.5 711.4L228.7 710L228.9 709L229.1 707L229.3 706L229.5 704.4L229.7 703.6L229.9 701.6L230.1 701L230.3 699L230.5 697.5L230.7 696.7L230.9 695.1L231.2 693.4L231.4 692.6L231.6 690.7L231.9 690.2L232.2 688.8L232.5 687.6L232.8 686.2L233.1 684.6L233.4 683.4L233.6 682.1L233.9 681.4L234.2 679.2L234.5 678.8L235 676.6L235.6 675.6L236.2 674.5L236.7 673.9L237.3 672.3L237.8 670.9L238.4 670.2L239.3 668.4L240.3 667.6L241.2 666.6L242.1 665.7L243.1 664.6L244.1 663.6L245.2 662.4L246.2 661.4L247.2 660.3L248.3 660.2L249.3 659.1L250.4 658.4L251.5 657L252.7 656.5L253.8 656.1L254.9 655.1L256 653.8L257.1 653.4L258.2 653.2L259.4 651.8L260.5 651.1L261.6 650.5L262.7 650.3L263.8 649.8L264.9 648.4L266.3 647.9L267.7 647.5L269 647.1L270.4 646.8L271.8 645.9L273.1 645.6L274.5 645L275.9 645.4L277.2 644.7L278.6 643.6L280 644.2L281.3 642.8L282.7 642.8L284 643L285.4 642.4L286.8 642L288.2 641.3L289.6 640.7L290.9 640.8L292.3 639.9L293.7 639.6L295.1 639.5L296.5 638.8L297.9 638.8L299.3 638.9L300.7 638.5L302 638.1L303.4 638L304.8 637.5L306.2 636.9L307.6 637.1L309 636.7L310.4 636.8L311.8 636.7L313.1 635.9L314.5 635.7L315.9 635.6L317.2 635L318.6 634.5L320 634.7L321.3 634.6L322.7 634.2L324 633.9L325.4 633.9L326.8 633.5L328.1 633.3L329.5 632.9L330.9 632.5L332.2 632.7L333.6 631.9L335.2 631.9L336.7 631.9L338.3 631.4L339.9 630.9L340 630.9L341.3 631.2L342.6 631.3L343.9 631.5L345.2 631.4L346.5 631.7L347.8 632.1L349.1 631.3L350.4 631.9L351.7 632.1L353 631.7L354.3 631.9L355.6 632.5L356.9 631.6L358.2 632.2L359.5 631.8L360.8 632.4L362.1 632.5L363.4 632L364.7 631.5L366 632L367.3 631.9L368.6 632L369.9 631.7L371.2 631.8L372.5 631.9L373.8 631.5L375.1 631.3L376.4 631.8L377.7 631L379 631.4L380.3 631L381.6 631.4L382.9 630.6L384.2 631.5L385.5 630.7L386.8 630.3L388.1 630.5L389.4 630.6L390.7 630.1L392 630.5L393.3 630.4L394.6 630.7L395.9 630.2L397.2 630.1L398.5 629.9L399.9 630.4L401.3 630.4L402.7 629.9L404.1 629.4L405.5 629.9L406.9 629.3L408.3 629L409.7 628.7L411 629.2L412.4 629L413.8 628.6L415.1 628.3L416.5 628.2L417.9 627.6L419.2 628.2L420.6 627.4L422 627.5L423.3 627.8L424.6 628L425.9 627.8L427.2 627.7L428.5 628.2L429.8 627.9L431.1 628.8L432.4 628.5L433.7 629.2L435 628.7L436.3 629L437.6 629L438.9 629.2L440.2 628.9L441.5 628.7L442.8 629.5L444.1 629L445.4 629L446.7 629.1L448 629.2L449.3 629.2L450.6 629.4L451.9 629.4L453.2 629.1L454.5 629.7L455.8 629.7L457.1 628.8L458.4 629.4L459.7 629.3L461 629L462.3 628.1L463.6 628.7L464.9 628.2L466.2 627.4L467.5 627.2L468.8 628L470.1 627.5L471.4 626.8L472.7 626.5L474 626.3L475.3 626.2L476.6 626.6L477.9 626.1L479.2 625.8L480.5 626.6L481.8 626.4L483.1 625.7L484.4 626.4L485.7 626L487 626.1L488.3 625.9L489.6 626.1L490.9 625.9L492.2 625.9L493.5 625.2L494.8 625.6L496.1 625.4L497.4 625.7L498.7 625.4L500 626L501.3 625.7L502.6 625.4L503.9 625.5L505.2 625.4L506.5 625.9L507.8 625.5L509.1 626L510.4 625.7L511.7 626.1L513 626.2L514.3 626.3L515.6 626.7L517 625.9L518.3 626.9L519.7 626.6L521 626.8L522.4 627.1L523.7 627.4L525.1 627L526.4 627.1L527.8 627.8L529.2 627L530.5 627.7L531.9 627.8L533.2 627.2L534.6 628L535.9 628.2L537.3 628.6L538.6 628L540 628.8L541.3 628.2L542.6 628.1L543.9 628.5L545.2 627.5L546.5 628.2L547.8 628L549.1 627.7L550.4 628.2L551.7 627.6L553 627.6L554.3 627.6L555.6 627.8L556.9 627.1L558.2 627.3L559.5 627.2L560.8 627.4L562.1 627.7L563.4 627.1L564.7 627.7L566 627.2L567.3 627.3L568.6 627.1L569.9 627.3L571.2 627.8L572.5 627.5L573.8 627.6L575.1 627.1L576.4 627.1L577.7 627.1L579 627.4L580.3 627.6L581.6 627.9L582.9 627.2L584.2 628.1L585.5 628.4L586.8 628.1L588.1 627.7L589.4 628.1L590.7 627.9L592 628.3L593.3 629.2L594.6 629L595.9 629.2L597.2 629.5L598.5 629.7L599.8 629.5L601.1 629.5L602.4 629.6L603.7 629.7L605 629.7L606.3 629.9L607.6 629.4L608.9 630L610.2 629.8L611.5 630.2L612.8 629.5L614.1 629.7L615.4 629.6L616.7 630.5L618 630.7L619.3 630.4L620.7 630L622 630.4L623.3 630.3L624.6 630L625.9 629.6L627.2 629.6L628.5 629.6L629.8 629.5L631.1 629.5L632.4 629.7L633.7 629.9L635 628.9L636.3 629.4L637.6 628.8L638.9 628.9L640.2 629.7L641.5 629.5L642.8 630L644.1 629.5L645.4 629.1L646.7 629.6L648 629.9L649.3 630.3L650.6 630.4L651.9 630L653.2 630L654.5 629.7L655.8 630.3L657.1 629.9L658.4 629.9L659.7 629.8L661 629.9L662.3 630.7L663.6 630.2L664.9 631.1L666.2 630.2L667.5 631.2L668.8 630.4L670.1 630.4L671.4 631.2L672.7 630.7L674 631.3L675.3 630.8L676.6 630.7L677.9 631.7L679.2 631.7L680.5 632L681.8 632L683.1 631.4L684.4 632.1L685.7 632.4L687 632.2L688.3 632.9L689.6 632.2L690.9 633.2L692.2 633L693.6 632L695 631.8L696.4 632.3L697.8 632.2L699.2 631.2L700.6 631.2L702 631.5L703.3 631.5L704.6 632.9L705.9 633.2L707.2 633.3L708.5 634.3L709.8 635.2L710.9 635.9L712 637L713.1 637.2L714.2 638.8L715.3 639.2L716.4 640.3L717.6 641.1L720 641.7L721.6 642.2L723.1 643.1L724.7 643.8L726 644.7L727.3 645.5L728.6 646.2L729.6 644.8L730.5 644.6L731.5 643.2L732.5 642.1L732.7 640.3L732.9 639.3L733.1 638.4L733.3 636.9L733.5 635.4L733.7 633.8L733.9 632.6L734 631.8L734.2 629.9L734.4 629L734.6 627.6L734.8 626.6L734.9 625L734.9 622.9L734.9 621.1L735 619.9L735 618.6L735.3 617.4L735.6 616.2L735.9 614.8L736.2 612.4L736.4 611.9L736.7 610.4L737 609L738 607.7L739 606.3L740.7 606.6L742.4 606.3L744.1 605.8L744.3 607.4L744.6 608.1L744.8 609.2L745.1 611L745.4 612.6L745.6 613.3L745.9 615.4L746.1 617.2L746.4 617.9L746.6 619.8L747 618.4L747.4 616.6L747.8 614.8L748.1 613.4L748.2 612.6L748.2 611.3L748.2 609.6L748.3 607.9L748.3 607.4L748.3 606L748.4 604.1L748.4 603.1L748.4 602.2L748.4 600.8L748.5 599.1L748.5 597.7L748.5 596.5L748.6 594.8L748.6 593.4L748.6 592.1L749.9 592.2L751.2 591.3L751.2 590.2L751.3 588.6L751.4 587.4L751.5 585.7L751.5 584.2L751.6 583.9L751.7 581.9L751.7 580.2L751.8 579.5L751.9 578.3L752 576.2L752 575.4L752.1 573.8L752.2 572.6L752.2 570.7L752.3 569.4L752.4 569.1L752.5 567.6L752.5 565.8L752.6 564.6L752.7 562.9L753.7 564.5L753.8 565.4L753.9 567.3L753.9 568.5L754 569.9L754.1 571.4L754.2 572L754.3 573.1L754.4 574.6L754.4 575.9L754.5 577.2L754.6 578.5L754.7 580.4L754.8 582.1L754.9 583L754.9 584.9L755 586.2L755.1 586.6L755.2 588.5L755.3 589.6L755.3 590.7L755.4 592.9L755.5 593.5L755.5 595.2L755.6 596.6L755.6 598.3L755.7 599.4L755.8 600.4L755.8 601.8L755.9 602.8L756 605.1L756 606.5L756.1 607L756.1 608.1L756.2 609.7L756.3 611.1L756.3 613.1L756.4 614.4L756.5 615.7L756.5 616.2L756.6 618.3L756.7 619.6L756.7 620.9L756.8 622.6L756.9 622.9L757 624.3L757.1 626.3L757.2 627.8L757.3 628.8L757.4 629.7L757.5 631.3L757.6 632.8L757.7 633.4L757.8 632.3L757.9 630.8L758 629.3L758.1 628.3L758.2 626.6L758.3 625.3L758.4 623.8L758.5 623L758.6 620.9L758.6 620.3L758.7 618.4L758.8 619.5L758.9 621.9L758.9 622.4L759 624.6L759.1 625.8L759.1 627.2L759.2 627.7L759.3 629.4L759.3 630.4L759.4 632.6L759.5 633.9L759.5 635L759.6 636.2L759.7 637.4L759.7 639.3L759.9 637.5L760 636.2L760.1 634.3L760.3 632.9L760.4 631.4L760.5 630.7L760.7 629.1L760.8 627.2L760.9 626.6L761.1 624.5L761.1 626L761.2 627.1L761.3 628.6L761.4 630.6L761.5 631.4L761.6 632.6L761.7 634.4L761.8 635.5L761.8 637.5L761.9 638.1L762 640.4L762.1 640.7L762.2 643L762.3 644.1L762.4 642.3L762.5 641.2L762.5 639.6L762.6 638.2L762.7 636.7L762.8 635.5L762.9 634.9L763 633.5L763.1 632L763.2 629.7L763.3 628.6L763.4 630.6L763.4 631L763.5 633L763.6 633.9L763.7 635.9L763.7 636.2L763.8 638.4L763.9 639.2L764 640.3L764.1 641.5L764.1 643.7L764.2 644.7L764.3 645.6L764.4 644.5L764.5 643.7L764.6 641.5L764.7 640.5L764.8 638.7L764.8 637.4L764.9 636.6L765 635.2L765.1 633.2L765.2 631.7L765.3 630.4L765.4 632.3L765.5 633.5L765.6 634.6L765.8 635.9L765.9 637.7L766 639.1L766.1 640.6L766.2 641.7L766.3 642.6L766.4 641.1L766.5 640.4L766.6 638.6L766.7 637.5L766.8 635.4L766.9 634.8L767 632.9L767.1 632L767.2 630.6L767.3 628.8L767.4 629.6L767.5 631.9L767.6 632.7L767.7 634.5L767.8 635.1L767.9 636.3L768 638.4L768.1 639.2L768.2 640.3L768.3 641.8L768.4 640.6L768.5 638.6L768.6 637.7L768.7 636.2L768.8 634.9L768.9 633L769 632.3L769.1 631L769.2 629.6L769.3 627.6L769.5 629.4L769.6 630.4L769.7 632.2L769.8 632.9L770 635.2L770.1 636.6L770.2 637.5L770.4 638.9L770.5 637.6L770.6 636.3L770.7 634.3L770.8 634L770.9 631.9L771 630.5L771.1 629L771.3 627.9L771.4 627.1L771.5 627.6L771.6 629L771.7 631L771.8 631.8L771.9 633L772 635L772.1 636.3L772.3 637.6L772.4 639.1L772.6 637L772.8 636.4L773 634.8L773.2 632.6L773.5 631.3L773.7 630.2L773.9 628.8L774.2 630L774.5 631.2L774.8 632.9L775.1 634.1L775.4 636L775.5 635L775.7 632.9L775.8 632.1L776 631L776.1 629L776.3 628.4L776.4 627.3L776.5 628L776.6 629.3L776.6 631.1L776.7 632.1L776.8 633.3L776.9 635.2L777 636.3L777 637.2L777.1 638.4L777.2 639.8L777.3 641.2L777.3 643.2L777.4 644.3L777.6 643L777.7 641.4L777.9 640L778 637.7L778.1 636.8L778.3 635.8L778.4 634.3L778.5 634.9L778.6 636.5L778.7 638L778.8 639.1L778.9 640.6L778.9 641.5L779 643.2L779.1 644.6L779.2 645.5L779.3 646.9L779.4 649.2L779.4 650.3L779.6 649.1L779.7 647.4L779.8 646.2L779.9 644.9L780.1 643.5L780.2 641.2L780.3 640.5L780.5 638.7L780.6 640.5L780.7 641.5L780.9 643.3L781 645.1L781.2 646.3L781.3 647.3L781.5 649L781.5 647.6L781.6 646.9L781.6 644.8L781.6 643.5L781.7 642.6L781.7 640.7L781.8 639.9L781.8 639L781.9 637.2L781.9 635.6L781.9 634.5L782 633.2L782 631.5L782.1 630.2L782.1 628.8L782.2 627.7L782.2 626.5L782.3 625.1L782.3 623.7L782.3 622.2L782.4 621.4L782.4 620.4L782.5 618.8L782.5 617.5L782.5 616.3L782.6 614.5L782.6 613.7L782.6 612.1L782.7 610.9L782.7 609.7L782.7 608.2L782.7 606.7L782.8 605.4L782.8 604L782.8 603L782.9 601.6L782.9 600.5L782.9 598.6L783 597.6L783 596.9L783.2 597.5L783.5 599.2L783.7 600.5L784 601.6L784.2 603.8L784.5 604.3L784.6 606.2L784.7 606.9L784.8 608.1L784.9 610.4L785 611.2L785.1 612.2L785.2 613.9L785.3 615.3L785.4 616.9L785.5 617.6L785.6 619.1L785.7 621.2L785.8 622.3L785.9 623L786 624.6L786.1 626L786.3 627.7L786.4 628.9L786.5 630.5L786.6 631.9L786.8 632.9L786.9 634.5L787 635.8L787.1 637.2L787.3 638.2L787.4 639.9L787.5 641.2L787.6 642.7L787.8 643.1L787.9 645.3L788 645.6L788.1 647.8L788.3 648.9L788.4 650.1L788.5 651.9L788.6 652.8L788.7 654L788.3 652.8L787.9 651.3L787.4 649.5L787.7 650.5L787.9 651.9L788.2 653.2L788.5 654.8L788.7 655.6L789 657.1L789.2 658.5L789.5 659.6L789.8 660.9L790 662.7L790.3 664.1L790.5 665L790.8 666.2L791.1 667.2L791.3 668.7L791.6 669.8L791.8 671.6L792.1 672.9L792.4 673.6L792.6 675.8L792.9 676.5L793.1 678.4L793.4 679.7L793.7 681.1L794.3 681.5L794.9 682.9L795.5 684.6L796.1 684.9L796.7 686.1L797.3 687.9L797.9 689L798.5 690.7L799.1 691.7L799.7 692.6L800.3 694.3L800.9 695L801.5 696.2L802.2 697.5L802.9 698.3L803.6 699.4L804.3 700.8L805 701.7L805.7 703.5L806.4 704.3L807.1 705.3L807.8 706L808.6 707.4L809.3 708.6L810.1 709.7L811 710.8L811.8 712.1L812.7 713.2L813.5 713.6L814.4 714.6L815.2 715.8L816.1 717.2L816.9 717.5L817.8 718.6L818.6 720L819.6 720.1L820.6 721.1L821.6 722.7L822.6 723.4L823.6 723.9L824.6 724.3L825.6 726L826.6 726.6L827.6 727.6L828.6 728.7L829.6 729.4L830.7 729.8L831.8 730.4L832.9 731.4L834 732.6L835.1 733.4L836.3 734L837.4 734.9L838.4 736.3L839.4 737.2L840.5 737.8L841.5 739.4L842.6 739.9L843.6 740.1L845.2 740.8L846.7 741.4L848.3 741L849.9 741.7L851.3 741.6L852.7 742.7L854.1 744.2L855.5 744.6L856.9 745.1L858.2 744.9L859.5 745.8L860.8 746.3L862.1 746.3L863.4 747.3L864.8 747.6L866.1 748.7L867.4 748.3L868.7 748.3L870 748L871.3 748.3L872.7 749.5L874 748.6L875.3 748.8L876.6 749.2L877.9 750.2L879.2 751.1L880.6 751.2L881.9 752L883.2 751.1L884.5 751.5L885.8 753.3L887.1 752.9L888.5 754.2L889.8 754L891.1 754.3L892.4 755L893.7 755.2L895 757.3L896.4 757.2L897.7 757.3L899 757.7L900.3 757.8L901.6 757.4L903 759.3L904.3 758.9L905.6 759.9L906.9 759L908.2 759.6L909.6 759.4L911 759.5L912.4 761.9L913.8 762.2L915.2 761.6L916.1 763.9L917 764.8L917.9 764.7L918.8 766.5L919.6 768.4L919.7 768.7L919.8 771.2L919.9 770.8L920 772.6L920.1 774.9L920.2 774.9L920.2 776.6L920.3 779.6L920.4 779.9L920.5 782.2L920.7 779.2L920.9 777.6L921 776.7L921.2 774.8L921.4 775.6L921.6 772.3L921.7 771.6L921.9 769.1L922.1 768.8L922.3 767L922.8 765.8L923.4 763.9L923.9 762.8L924.5 763.2L925 760.9L925.6 759.5L926.1 758.2L926.7 757.2L927.2 758.3L927.7 759.1L928.2 761.7L928.8 762.2L929.3 763L930.6 764.7L931.9 763.7L933.2 764.5L934.6 766.3L935.6 763.6L936.7 763.3L937.7 763.1L938.8 762L939.8 759.5L940.9 760.8L941.9 762.5L943 762.6L944 764.8L945.1 764L946.5 765.8L947.9 765L949.3 764.5L950.7 765.2L952.1 764.6L952.6 764.8L953.2 762.5L953.7 762.7L954.2 760.8L954.8 759.1L955.3 757.6L955.8 757.1L956.3 755.1L956.9 755.1L957.4 752.5L958.7 752.8L960 752.4L960.4 753.3L960.8 755.6L961.2 756.3L961.5 758.2L961.9 759.4L962.3 760.2L962.7 761.8L963.7 762.1L964.8 763.4L965.8 766L966.9 765.8L967.9 767.7L969.3 766.7L970.7 768.1L972.1 768L973.5 768.7L975 768.5L976.4 768.3L977.8 769.2L979.2 769.4L980.6 769.5L982 771.3L983.4 770.2L984.8 770.5L986.2 771.8L987.6 771.5L989 771.8L990.1 772.8L991.1 771.9L992.2 773.3L993.2 773.7L994.3 776.6L995.3 777.4L996.4 777.4L997.4 778.4L998.5 780L999.5 781L1000.9 779.1L1002.2 780.1L1003.5 778L1004.8 778.2L1005.4 775.7L1006 774.4L1006.6 775.4L1007.1 773.7L1007.7 772.5L1008.3 769.6L1009.8 769.6L1011.2 769.9L1012.7 770L1014.2 770.3L1015.6 770.5L1017.1 769.6L1018.4 770.3L1019.7 771.1L1021 770L1022.4 771.7L1023.7 771L1025 771.3" fill="none" stroke="#ED1C24" stroke-width="4.8" stroke-linejoin="round" stroke-linecap="butt"/>
<path d="M108 782.5L108.4 780.5L108.8 780.4L109.1 777.3L109.5 777.1L111.2 776.6L113 775.7L113.5 778.5L114 778.7L114.5 781.3L115 781.8M170.5 781.8L171.2 781.6L171.8 781.7L172.5 778.5L174.5 779.2L175 781.9L175.5 784.3M204.4 784.8L204.5 782.6L204.7 782.6L204.8 778.2L205.1 779.2L205.3 776.2L205.6 774.5L205.9 773.1L206.1 772.3L206.4 772.2L206.7 769.3L206.9 768.9L207.2 767.7L207.6 765.7L208 764.7L208.3 762.3L208.7 760.9L209.1 759.9L209.5 759.5L209.9 757.7L210.3 756.1L210.7 755.3L211 753.7L211.4 752.1L211.7 751.7L212.1 750.2L212.5 748.1L212.8 747.3L213.2 745.9L213.5 745.1L213.9 743.5L214.3 741.6L214.6 741.2L215 738.8L215.3 737.8L215.6 736.9L216 734.9L216.3 733.9L216.6 732.1L217 731.4L217.3 730.2L217.7 728.6L218 727.6L218.3 725.7L218.7 724.8L219 723.3L219.3 722L219.7 720.5L220 719.6L220.3 718.3L220.7 716.5L221 715.4L221.3 713.4L221.7 712.7L222 711.3L222.3 710.4L222.7 708.8L223 706.9L223.3 705.7L223.7 704.7L224 702.6L224.3 701.8L224.6 700.1L224.9 698.7L225.2 697.4L225.5 696.8L225.8 694.8L226.1 693.6L226.4 692.4L226.7 691.6L227 689.5L227.3 688.5L227.6 687.3L227.9 686.4L228.2 685L228.7 683.7L229.1 681.7L229.6 680.5L230 679.1L230.5 678.4L230.9 677.1L231.4 674.9L232.1 673.7L232.9 672.5L233.7 671.2L234.5 670.3L235.3 669.1L236.2 667.7L237.1 666.3L238.1 665.7L239 664.5L240 663.6L240.9 663.1L241.9 661.8L242.9 660.7L243.9 659.8L244.8 658.9L245.8 657.2L246.8 657.2L247.8 656.1L248.9 655.4L250 654.5L251.1 653.3L252.2 652.5L253.3 651.4L254.4 651.2L255.6 649.8L256.9 649.2L258.2 648.7L259.5 648L260.8 647.5L262.1 646.5L263.4 645.8L264.7 645.6L266 645.1L267.4 644.9L268.7 644.1L270.1 644.6L271.4 643.8L272.7 642.9L273.9 642.5L275.2 642.1L276.4 641.6L277.6 640.8L278.8 641.1L280 640.7L281.2 639.6L282.4 639.1L283.7 638.1L284.9 637.8L286.2 637.6L287.4 637.2L288.7 637.4L289.9 636.3L291.2 635.7L292.4 636.3L293.6 635.5L294.9 634.7L296.1 634.7L297.7 634.4L299.3 635.1L300.8 635.8L302.4 635.9L303.7 635.2L305.1 634.3L306.4 634L307.7 633.3L309.1 633.5L310.4 632.8L311.8 632.6L313.1 631.9L314.4 631.4L315.7 631.8L317 631.7L318.3 631.2L319.6 630.9L321 630.6L322.3 630.2L323.7 629.4L325 629.5L326.4 629.2L327.8 628.6L329.2 628.4L330.6 628.5L332 628.3L333.4 628.6L334.8 628.7L336.1 627.9L337.4 628.2L338.7 628.1L340 627.8L341.3 627.2L342.6 627.1L343.9 627.1L345.2 627.1L346.5 627.2L347.8 627.7L349.1 628L350.4 628L351.7 627.6L353 627.9L354.3 628.1L355.6 627.3L356.9 628L358.2 628.3L359.5 628.2L360.8 628.1L362.1 627.8L363.4 627.4L364.7 628.1L366 627.5L367.3 628L368.6 628.1L369.9 627.5L371.2 627.4L372.5 628L373.8 627.7L375.1 627.1L376.4 627L377.7 627L379 627.8L380.3 627.5L381.6 626.7L382.9 627.3L384.2 627.3L385.5 626.8L386.8 626.4L388.1 626.5L389.4 625.9L390.7 625.6L392 626.5L393.3 626.1L394.6 625.8L395.9 626.1L397.2 625.4L398.5 625.8L399.8 625.6L401.1 624.8L402.4 624.8L403.7 624.7L405 624.6L406.3 624.8L407.6 624.4L408.9 624.4L410.2 624L411.5 624.8L412.8 624.1L414.1 624.1L415.4 624.1L416.7 624.4L418 623.7L419.3 624.3L420.7 623.9L422 624L423.3 624L424.6 623.5L425.9 624L427.2 623.7L428.5 623.6L429.8 624.5L431.1 623.8L432.4 624.2L433.7 624.5L435 624.4L436.3 624.2L437.6 624.4L438.9 624.5L440.2 624.7L441.5 624L442.8 624.5L444.1 624.1L445.4 624.1L446.7 624.7L448 624.4L449.3 624.5L450.6 624.7L451.9 624.8L453.2 624.3L454.5 624.5L455.8 624.4L457.1 624.4L458.4 624.4L459.7 623.9L461 623.8L462.3 623.5L463.6 623.8L464.9 623.3L466.2 623.3L467.5 623.1L468.8 622.1L470.1 622.2L471.4 622.4L472.7 622.1L474 621.1L475.3 620.9L476.6 621L477.9 620.5L479.2 620.7L480.5 620.4L481.8 621L483.1 621.1L484.4 621.1L485.7 620.2L487 620.8L488.3 620.7L489.6 620L490.9 620.8L492.2 620.8L493.5 619.9L494.8 620.7L496.1 620L497.4 620.1L498.7 620.8L500 620.7L501.3 620L502.6 620.3L503.9 620.5L505.2 620.4L506.5 620.3L507.8 620.5L509.1 621L510.4 620.3L511.7 620.9L513 620.9L514.3 620.5L515.6 620.9L517 621.2L518.3 621.1L519.7 620.7L521 621.7L522.4 621.5L523.7 621.7L525.1 620.8L526.4 621L527.8 620.8L529.2 621.6L530.5 621.1L531.9 620.9L533.2 621.3L534.6 621.8L535.9 621.7L537.3 621.2L538.6 621.1L540 621.9L541.3 621.5L542.6 621.5L543.9 620.7L545.2 620.6L546.5 621.2L547.8 620.8L549.1 620.4L550.4 621.2L551.7 620.8L553 620.9L554.3 620L555.6 620.8L556.9 619.8L558.2 620.6L559.5 620L560.8 619.9L562.1 620L563.4 620.4L564.7 619.6L566 619.4L567.3 619.7L568.6 619.4L569.9 619.1L571.2 619.1L572.5 619L573.8 619.1L575.1 619.1L576.4 619L577.7 619.5L579 618.9L580.3 619.2L581.6 618.9L582.9 619.2L584.2 619L585.5 619.3L586.8 619.1L588.1 620L589.4 619.9L590.7 619.6L592 620L593.3 620.6L594.6 619.8L595.9 620.7L597.2 620.3L598.5 620.5L599.9 620.6L601.3 619.9L602.7 619.8L604.1 619.8L605.5 619.9L606.9 619L608.3 619.3L609.7 619.4L611.1 619.5L612.5 619.5L613.9 619.7L615.3 619.6L616.7 619.9L618 620L619.3 620.7L620.7 620.1L622 619.9L623.3 619.8L624.6 620.5L625.9 620.5L627.2 620.2L628.5 619.7L629.8 619.6L631.1 619.6L632.4 619.7L633.7 619.3L635 619.6L636.3 619.3L637.6 620L638.9 620.2L640.2 619.9L641.5 619.8L642.8 620.7L644.1 620.2L645.4 620.4L646.7 620.2L648 620.8L649.3 621L650.6 621.1L651.9 620.9L653.2 621.3L654.5 620.8L655.8 621.1L657.1 621L658.5 621.6L659.9 621.5L661.3 621.8L662.6 622.4L664 622.6L665.4 623.2L666.8 623.4L668.2 623.7L669.6 623.6L671 623.7L672.4 623.8L673.8 623.3L675.2 623.2L676.6 623.9L678 623.3L679.4 624.2L680.8 624.4L682.2 624L683.6 625.2L684.9 625.5L686.3 625.5L687.7 625.9L689.1 626.3L690.5 625.8L691.9 626.5L693.3 626.8L694.7 627.4L696.1 627.7L697.5 627.5L698.9 627L700.3 627.2L701.7 626.7L703.1 626.6L704.5 625.8L705.9 625.4L707.1 626.2L708.3 627.1L709.5 627.5L710.7 629L712 629.3L713.2 630L714.4 630.7L715.6 631.4L717.1 632.1L718.5 632.5L720 634.3L721.2 634.8L722.3 635.1L723.5 635.8L724.7 636.5L726.2 636.1L727.8 637.1L729.4 636.8L730.7 635.6L732 634.8L733.3 634.2L733.5 632.3L733.8 631.6L734 630.6L734.3 628.7L734.5 627.3L734.8 626.1L735 625L735.4 623.7L735.8 622.2L736.3 620.9L736.7 618.9L737.1 617.6L737.5 616.4L738.3 615.7L739 613.9L739.8 613L740.6 611.1L742.1 611.2L743.6 611.4L745.1 611.8L746.4 610.8L747.8 609.8L749.1 608.4L749.3 607.3L749.5 605.9L749.7 604.6L749.9 602.9L750.2 602.5L750.4 600.4L750.6 599.9L750.8 598.6L751 596.3L751.2 595.4L752 594.8L752.9 594L753.8 592.4L754.7 591.2L756 590.2L757.2 590.2L758.5 588.5L759.7 588L760 588.9L760.2 590.7L760.4 592.6L760.6 593.1L760.9 595.3L761.1 596.3L761.3 598.1L761.5 599.3L761.8 600.2L761.8 602.3L761.9 603.1L761.9 603.9L762 605.2L762.1 607.1L762.1 608.3L762.2 609.5L762.2 610.6L762.3 612.1L762.4 613.4L762.4 615.3L762.5 615.7L762.5 617.8L762.6 619.2L762.7 619.7L762.7 621.9L762.8 623L762.8 621.8L762.9 619.8L762.9 618.6L763 617.2L763 616.6L763.1 614.8L763.1 613.2L763.1 611.9L763.2 610.4L763.2 608.8L763.3 607.5L763.3 607L763.4 605L763.4 604.4L763.5 602.3L763.5 600.9L763.6 599.9L763.6 598.2L763.7 597L763.7 596.3L763.8 594.9L763.8 593.5L763.8 591.9L763.9 590.9L764 589.6L764 587.8L764.1 586.6L764.1 584.5L764.2 583.9L764.3 582.3L764.3 581.3L764.4 579.8L764.5 578.1L764.5 576.5L764.6 576.1L764.6 573.9L764.7 572.9L764.8 571.4L764.8 570L764.9 569.1L765 568.1L765 565.9L765.1 565L765.1 563.3L765.2 562.2L766.3 560.5L766.4 561.6L766.5 562.9L766.7 564.2L766.8 566.3L766.9 567.2L767 568.2L767.1 570.3L767.2 571.7L767.3 572.4L767.5 573.4L767.6 574.7L767.7 575.9L767.8 577.5L767.9 578.6L768 580L767.9 581.4L767.9 583.1L767.8 584.8L767.7 586L767.6 587L767.5 588.3L767.4 589.8L767.4 591L767.3 592.3L767.2 593.3L767.1 594.9L767 597L766.9 597.4L766.9 599.2L766.8 600.7L766.7 602.3L766.6 602.9L766.5 604.3L766.5 605.7L766.4 607.3L766.3 608.7L766.3 610.7L766.2 612L766.2 613.5L766.1 613.9L766 615.4L766 617.5L765.9 619.1L766 617.4L766.1 616.2L766.3 614.2L766.4 613.4L766.5 612.6L766.6 611.2L766.7 609.9L766.9 608.8L767 606.7L767.1 605.2L767.2 603.9L767.3 603L767.5 601.9L767.6 600.9L767.7 599.3L767.8 598L767.9 596.8L768.1 597.9L768.2 599.4L768.4 600.2L768.5 602.5L768.6 603.3L768.8 605.4L768.9 606.5L769.1 607.6L769.2 608.8L769.3 610.4L769.4 612.1L769.5 613.5L769.6 614.2L769.7 615.5L769.8 617.4L769.8 618.8L769.9 619.9L770 621.1L770.1 622.9L770.2 623.6L770.3 625.2L770.4 626.7L770.4 626L770.5 624.3L770.5 623.2L770.6 621.4L770.7 619.8L770.7 618.5L770.8 618L770.9 616.3L770.9 614.6L771 612.9L771.1 612.1L771.1 611L771.2 609.4L771.3 607.9L771.3 607L771.4 605.9L771.5 603.8L771.5 602.3L771.6 601.3L771.6 600L771.7 599L771.8 597.1L771.8 596.4L771.9 595.1L772 593.5L772 591.8L772.1 591.3L772.1 589.2L772.2 588.4L772.3 586.4L772.3 585.1L772.4 584.3L772.4 582.5L772.5 581.8L772.5 580L772.6 578.3L772.6 577L772.7 575.9L772.8 574.8L772.8 573.7L772.9 571.5L772.9 570.4L773 568.9L773 568.4L773.1 566.1L773.1 564.7L773.2 563.3L773.3 562.4L773.3 561.6L773.4 560.2L773.4 558.7L773.5 557.6L774.6 557.1L774.7 557.7L774.8 558.9L774.9 561L775 562.1L775 562.7L775.1 564.7L775.2 565.7L775.3 567L775.4 568.3L775.5 569.4L775.6 570.5L775.7 572.2L775.8 573.6L775.9 575.5L775.9 576L776 578.2L776.1 578.7L776.2 580.2L776.1 582L775.9 583.4L775.8 584.3L775.7 585.2L775.5 587L775.4 588.3L775.3 590.2L775.1 590.8L775 592.3L774.9 594.2L774.7 594.6L774.6 596.4L774.5 598.2L774.3 599.5L774.2 600L774.1 601.3L774.1 602.7L774.1 605L774 605.6L774 607.4L773.9 608.9L773.9 609.7L773.9 610.9L773.8 613L773.8 613.9L773.7 614.9L773.7 616.7L773.6 617.6L773.6 618.9L773.6 619.9L773.5 622.1L773.5 623.6L773.4 624.6L773.4 626.3L773.5 623.9L773.6 622.8L773.7 621.8L773.8 621L774 619.6L774.1 617.7L774.2 616.2L774.3 615.1L774.4 613.8L774.5 613L774.6 610.8L774.7 610.2L774.9 608.8L775 607.6L775.1 606.2L775.2 604.7L775.4 603L775.5 601.5L775.7 600.2L775.8 599.2L776 597L776.2 595.7L776.3 594.9L776.5 593L776.7 591.4L776.8 589.9L776.9 591.8L776.9 592.9L777 594.9L777 596.1L777.1 597.5L777.1 598.1L777.2 599.2L777.2 600.5L777.3 602.3L777.3 603.8L777.3 604.9L777.4 605.9L777.4 607.5L777.5 609L777.5 610.4L777.6 611.8L777.6 613.2L777.7 614.3L777.7 615L777.8 617.1L777.8 617.9L777.9 619.5L777.9 620.6L778 619.7L778.1 617.8L778.2 616.5L778.2 615.2L778.3 613.8L778.4 613.3L778.5 611.7L778.5 610.1L778.6 608.8L778.7 608.2L778.8 606.4L778.9 604.7L778.9 604.1L779 602.6L779.1 601.7L779.2 599.4L779.2 598.5L779.3 597.5L779.4 596.1L779.5 594.8L779.6 592.5L779.7 591.4L779.8 589.9L779.8 588.6L779.9 588.1L780 586.3L780.1 585.3L780.2 583.3L780.3 582.5L780.4 580.6L780.5 579L782.5 579.6L782.6 581.1L782.8 581.5L782.9 583.4L783 584.7L783.2 585.6L783.3 587L783.5 588.1L783.6 589.5L783.7 590.9L783.9 592.6L783.6 594L783.4 594.8L783.1 595.9L782.9 597.6L782.7 599.4L782.4 600.2L782.2 601.7L781.9 602.9L781.7 604.9L781.6 606L781.4 606.8L781.3 608.2L781.2 609.8L781.1 611.4L781 612.8L780.9 613.5L780.8 615L780.7 616.9L780.9 615.2L781.2 613.8L781.5 612.4L781.7 611.8L782 609.7L782.3 608.7L782.5 607.1L782.8 605.8L783.1 605L784.3 605.6L785.5 605.4L785.6 606.6L785.7 608.6L785.8 609.4L785.9 610.5L786 612.9L786.2 613.7L786.3 615.5L786.4 616.4L786.5 618.3L786.6 619.2L786.7 620.3L786.8 621.5L786.9 623.5L787 624.9L787.1 626.6L787.3 627L787.4 628.9L787.5 630L787.7 631.5L787.8 632.5L787.9 634L788 635.6L788.2 637.4L788.3 637.8L788.4 639.6L788.5 641.3L788.7 642.8L788.8 643.2L789 644.5L789.1 646.7L789.3 648L789.4 648.8L789.6 649.6L789.7 651.9L789.9 652.6L790.1 654.5L790.3 655.5L790.5 657.1L790.8 657.7L791 659.8L791.3 660.5L791.5 662.1L791.7 663.9L792 665.2L792.2 665.9L792.5 667.3L792.7 668.8L792.9 670.3L793.2 671.5L793.4 672.6L793.7 674.1L794.2 675.9L794.7 677.4L795.2 677.7L795.7 679.6L796.3 681.1L796.8 681.6L797.3 683.8L797.8 684.3L798.3 686.2L798.9 687.4L799.4 688.8L799.9 689.7L800.6 691.1L801.3 692.5L802 693.5L802.7 695L803.4 696L804.1 697.2L804.8 697.9L805.5 699.8L806.1 700.9L806.9 701.8L807.7 703.5L808.5 704.7L809.3 705.5L810 706.4L810.8 707.9L811.6 708.6L812.4 709.8L813.3 711.2L814.2 711.8L815.1 713.2L816 714.3L816.9 714.8L817.7 716.4L818.6 716.8L819.7 718.4L820.7 719.4L821.8 720L822.8 720.4L823.8 721.8L824.9 722.6L826 723.9L827.1 723.7L828.2 725.1L829.3 726L830.5 726.3L831.6 727.1L832.7 727.1L833.8 728.7L834.9 729L836 730.3L837.1 731L838.3 730.9L839.4 732.4L840.5 733.4L841.7 733.2L843 734.3L844.2 735.5L845.5 735.6L846.7 737.2L847.6 737.6L848.6 739.2L849.5 739.5L850.4 740.9L851.3 742.5L852.2 742.6L853.5 741.9L854.8 741.5L856.1 740.5L857.6 739.4L859 738.8L860.3 739.4L861.6 741L862.8 741.3L864.1 742.2L865.3 741.9L866.6 743.3L867.8 743L869.1 743.9L870.5 744.4L871.8 744.4L873.1 745.4L874.4 745.3L875.7 745.7L877 746.4L878.4 745.6L879.8 746.8L881.3 746.1L882.8 745.6L884.2 746L885.7 745.1L887.1 746L888.2 746.2L889.3 746.6L890.4 748L891.5 748.3L892.6 748.6L893.7 750.3L894.8 749.9L895.9 752L897.4 751.3L898.9 752.3L900.3 753.2L901.8 752.8L903.2 753.2L904.7 752.9L906.2 752.5L907.6 752.7L909.1 753L910.6 754L912 753.8L913.5 754.1L914.8 755.7L916.1 755.2L917.4 756.2L918.8 757.9L919.6 757.8L920.5 758.9L921.4 760.8L922.3 761.4L923.1 763.1L924 764L925.1 763.9L926.1 763.1L927.2 761.4L928.2 761.4L929.3 760.2L930.6 758.8L931.9 759.8L933.2 757.8L934.6 756.9L936 757.2L937.4 758.6L938.8 759.4L940.2 759.6L941.6 759.2L942.9 758.7L944.2 757.9L945.5 759L946.9 758.6L948.3 758.2L949.7 758.8L951.1 758.4L952.5 759.4L953.9 759L955.3 757.5L956.7 758.2L958.1 756L959.5 756.4L960.9 755.7L962.2 755.6L963.5 755.4L964.9 757.1L966.2 755.8L967.2 757.7L968.3 759.4L969.3 758.6L970.4 759.6L971.4 761.4L972.8 761.5L974.2 762.1L975.7 762.9L977.1 761.8L978.5 762.5L979.9 762.6L981.3 762.2L982.7 764.3L984.1 764.2L985.5 764.2L986.7 762.1L987.8 763.3L989 762.5L990.2 762.8L991.3 764.3L992.5 764.5L993.7 764.9L994.9 765.5L996 766.6L997 767.1L998 768.9L999 770.9L1000 771.8L1001 773.2L1002 773.9L1003 773.7L1003.6 773.3L1004.2 771.8L1004.8 771.5L1005.4 769.7L1006 767.9L1006.6 767.6L1008 768L1009.4 765.9L1010.8 767.1L1012.2 764.7L1013.6 765L1015 764.7L1016.4 765.7L1017.8 766L1019.2 765.4L1020.6 764.2L1022.1 764.9L1023.5 763.1L1025 762.3" fill="none" stroke="#B856A1" stroke-width="4.8" stroke-linejoin="round" stroke-linecap="butt"/>
<line x1="260.3" x2="260.3" y1="779.55" y2="546.8" stroke="#0B8140" stroke-width="3" stroke-dasharray="1 5.9 8.9 5.7" stroke-dashoffset="0.9"/>
<line x1="641.0" x2="641.0" y1="779.55" y2="546.8" stroke="#3953A4" stroke-width="3" stroke-dasharray="1 5.9 8.9 5.7" stroke-dashoffset="0.9"/>
<line x1="716.1" x2="716.1" y1="779.55" y2="546.8" stroke="#ED1C24" stroke-width="3" stroke-dasharray="1 5.9 8.9 5.7" stroke-dashoffset="0.9"/>
<line x1="650.7" x2="650.7" y1="779.55" y2="546.8" stroke="#231F20" stroke-width="6.2" stroke-dasharray="8.5 9.24"/>
</g>
<clipPath id="c3"><rect x="94.5" y="815.6" width="931.0" height="233.40000000000006"/></clipPath>
<path d="M113.88 815.6v4.7M113.88 1048.4v-4.7M133.25 815.6v4.7M133.25 1048.4v-4.7M152.62 815.6v4.7M152.62 1048.4v-4.7M172.00 815.6v9.5M172.00 1048.4v-9.5M191.38 815.6v4.7M191.38 1048.4v-4.7M210.75 815.6v4.7M210.75 1048.4v-4.7M230.12 815.6v4.7M230.12 1048.4v-4.7M249.50 815.6v4.7M249.50 1048.4v-4.7M268.88 815.6v4.7M268.88 1048.4v-4.7M288.25 815.6v4.7M288.25 1048.4v-4.7M307.62 815.6v4.7M307.62 1048.4v-4.7M327.00 815.6v4.7M327.00 1048.4v-4.7M346.38 815.6v4.7M346.38 1048.4v-4.7M365.75 815.6v9.5M365.75 1048.4v-9.5M385.12 815.6v4.7M385.12 1048.4v-4.7M404.50 815.6v4.7M404.50 1048.4v-4.7M423.88 815.6v4.7M423.88 1048.4v-4.7M443.25 815.6v4.7M443.25 1048.4v-4.7M462.62 815.6v4.7M462.62 1048.4v-4.7M482.00 815.6v4.7M482.00 1048.4v-4.7M501.37 815.6v4.7M501.37 1048.4v-4.7M520.75 815.6v4.7M520.75 1048.4v-4.7M540.12 815.6v4.7M540.12 1048.4v-4.7M559.50 815.6v9.5M559.50 1048.4v-9.5M578.88 815.6v4.7M578.88 1048.4v-4.7M598.25 815.6v4.7M598.25 1048.4v-4.7M617.62 815.6v4.7M617.62 1048.4v-4.7M637.00 815.6v4.7M637.00 1048.4v-4.7M656.38 815.6v4.7M656.38 1048.4v-4.7M675.75 815.6v4.7M675.75 1048.4v-4.7M695.12 815.6v4.7M695.12 1048.4v-4.7M714.50 815.6v4.7M714.50 1048.4v-4.7M733.88 815.6v4.7M733.88 1048.4v-4.7M753.25 815.6v9.5M753.25 1048.4v-9.5M772.63 815.6v4.7M772.63 1048.4v-4.7M792.00 815.6v4.7M792.00 1048.4v-4.7M811.38 815.6v4.7M811.38 1048.4v-4.7M830.75 815.6v4.7M830.75 1048.4v-4.7M850.13 815.6v4.7M850.13 1048.4v-4.7M869.50 815.6v4.7M869.50 1048.4v-4.7M888.88 815.6v4.7M888.88 1048.4v-4.7M908.25 815.6v4.7M908.25 1048.4v-4.7M927.62 815.6v4.7M927.62 1048.4v-4.7M947.00 815.6v9.5M947.00 1048.4v-9.5M966.38 815.6v4.7M966.38 1048.4v-4.7M985.75 815.6v4.7M985.75 1048.4v-4.7M1005.13 815.6v4.7M1005.13 1048.4v-4.7M94.5 990.20h9.5M1024.5 990.20h-9.5M94.5 917.45h9.5M1024.5 917.45h-9.5M94.5 844.70h9.5M1024.5 844.70h-9.5M94.5 1026.58h4.7M1024.5 1026.58h-4.7M94.5 953.83h4.7M1024.5 953.83h-4.7M94.5 881.08h4.7M1024.5 881.08h-4.7" stroke="#3a3a3a" stroke-width="1" fill="none"/>
<rect x="94.5" y="815.6" width="930.0" height="232.80000000000007" fill="none" stroke="#3a3a3a" stroke-width="1.1"/>
<g clip-path="url(#c3)">
<path d="M93.7 987.2L157.4 987.2L161.2 988.2L164.9 984.9L169.9 983.7L189.9 986.2L204.9 989.9L214.9 994.9L222.4 998.7L229.9 999.2L237.4 994.9L244.8 987.4L254.8 979.9L264.8 974.9L274.8 974.2L289.8 974.9L304.8 976.9L319.8 978.7L334.8 979.9L346 979.9L366 980.7L396 984.9L420.9 988.7L445.9 991.9L470.9 994.9L508.3 998.2L545.8 1000.7L602 1003.6L627 1006.8L652 1007.3L671.9 1003.6L689.4 994.8L701.9 983.6L714.4 967.3L726.9 946.1L739.4 919.9L751.9 892.4L764.3 863.7L774.3 843.7L781.8 835L788.1 833.2L794.3 836.2L800 842.4L806.5 853.3L814.1 872.7L821.6 896.5L827 922.5L832.4 952.8L836.8 980.9L840 1004.7L842.6 1026.3" fill="none" stroke="#3953A4" stroke-width="4.9" stroke-linejoin="round" stroke-linecap="butt"/>
<path d="M93.7 986.9L159.9 986.7L172.4 983.7L179.9 982.9L189.9 984.9L199.9 986.2L209.9 989.9L219.9 993.7L229.9 994.9L238.6 993.7L247.3 986.2L257.3 976.2L267.3 968.7L274.8 966.2L282.3 966.2L294.8 968.7L309.8 971.9L324.8 974.2L339.8 974.9L346 975.4L366 975.7L396 979.9L420.9 984.2L445.9 988.2L470.9 991.7L508.3 994.9L545.8 997.9L602 1000.7L627 1003.6L652 1005.3L671.9 1002.8L689.4 997.3L701.9 990.3L714.4 981.1L726.9 968.6L739.4 952.4L751.9 932.4L764.3 907.4L776.8 879.9L789.3 853.7L798.1 835L800 833.8L804.3 826.2L807.6 829.5L814.1 826.2L820.5 827.3L822.7 820.8L824.9 825.1L830.3 831.6L837.9 846.8L844.3 864.1L850.8 887.9L856.2 913.8L861.6 939.8L867.1 965.7L871.4 991.7L874.6 1017.7L875.7 1032.4" fill="none" stroke="#0B8140" stroke-width="4.9" stroke-linejoin="round" stroke-linecap="butt"/>
<path d="M93.7 987.4L159.9 987.4L167.4 986.2L172.4 984.4L184.9 987.4L197.4 991.2L209.9 996.2L219.9 1003.6L229.9 1011.1L237.4 1015.4L244.8 1017.4L251.1 1015.4L257.3 1009.9L264.8 1001.9L272.3 997.4L282.3 995.4L297.3 994.9L314.8 994.9L329.8 996.2L346 996.9L366 996.9L388.5 998.2L408.4 1001.9L433.4 1006.1L458.4 1009.9L483.4 1012.9L508.3 1014.1L545.8 1014.9L570.8 1014.4L602 1013.6L627 1012.8L652 1011.5L664.4 1008.5L676.9 1002.8L689.4 993.6L701.9 978.6L711.9 957.3L719.4 934.9L726.9 907.4L734.4 879.9L741.9 854.9L746.9 840L751.4 832.5L754.4 833.7L758.1 838.7L764.3 841.2L766.8 850L773.1 856.2L775.6 869.9L778.1 882.4L780.6 904.9L783.1 949.9L785.6 987.3L788.8 1027.3" fill="none" stroke="#ED1C24" stroke-width="4.9" stroke-linejoin="round" stroke-linecap="butt"/>
<path d="M93.7 986.9L159.9 986.7L164.9 987.9L168.7 986.2L172.4 982.9L179.9 984.4L194.9 986.9L209.9 988.7L219.9 989.9L226.1 988.7L231.1 984.9L237.4 976.2L244.8 968.7L252.3 962.4L259.8 957.4L267.3 954.4L274.8 955.4L289.8 959.9L304.8 963.7L319.8 966.7L334.8 968.2L346 969.9L363.5 969.9L383.5 972.4L408.4 976.2L433.4 981.2L458.4 984.9L495.9 989.4L545.8 992.9L602 996.7L627 997.3L652 996.8L664.4 994.3L676.9 989.3L689.4 981.1L701.9 967.3L711.9 949.9L719.4 932.4L726.9 909.9L734.4 887.4L741.9 864.9L749.4 847.5L756.8 833.7L763.1 827.5L765.6 823.7L768.1 830L773.1 828L775.6 835L778.8 835L780.6 850L782.3 874.9L784.3 912.4L786.8 949.9L789.3 987.3L791.8 1024.8L794.3 1052.3" fill="none" stroke="#B856A1" stroke-width="4.9" stroke-linejoin="round" stroke-linecap="butt"/>
<line x1="260.3" x2="260.3" y1="1048.4" y2="815.6" stroke="#0B8140" stroke-width="3" stroke-dasharray="1 5.9 8.9 5.7" stroke-dashoffset="0.9"/>
<line x1="641.0" x2="641.0" y1="1048.4" y2="815.6" stroke="#3953A4" stroke-width="3" stroke-dasharray="1 5.9 8.9 5.7" stroke-dashoffset="0.9"/>
<line x1="716.1" x2="716.1" y1="1048.4" y2="815.6" stroke="#ED1C24" stroke-width="3" stroke-dasharray="1 5.9 8.9 5.7" stroke-dashoffset="0.9"/>
<line x1="650.7" x2="650.7" y1="1048.4" y2="815.6" stroke="#231F20" stroke-width="6.2" stroke-dasharray="8.5 9.24"/>
</g>
<text x="90" y="19.0" font-size="26.7" text-anchor="end">1.5</text>
<text x="90" y="96.7" font-size="26.7" text-anchor="end">1</text>
<text x="90" y="174.4" font-size="26.7" text-anchor="end">0.5</text>
<text x="90" y="252.1" font-size="26.7" text-anchor="end">0</text>
<text x="90" y="287.9" font-size="26.7" text-anchor="end">1</text>
<text x="90" y="404.3" font-size="26.7" text-anchor="end">0.5</text>
<text x="90" y="520.7" font-size="26.7" text-anchor="end">0</text>
<text x="90" y="854.6" font-size="26.7" text-anchor="end">1</text>
<text x="90" y="927.4" font-size="26.7" text-anchor="end">0.5</text>
<text x="90" y="1000.1" font-size="26.7" text-anchor="end">0</text>
<text x="41.8" y="789.8" font-size="26.7">10<tspan font-size="16" dy="-16.2" dx="2">12</tspan></text>
<text x="41.8" y="673.4" font-size="26.7">10<tspan font-size="16" dy="-16.2" dx="2">14</tspan></text>
<text x="41.8" y="557.0" font-size="26.7">10<tspan font-size="16" dy="-16.2" dx="2">16</tspan></text>
<text x="172.0" y="1077.3" font-size="26.7" text-anchor="middle">0</text>
<text x="365.8" y="1077.3" font-size="26.7" text-anchor="middle">0.05</text>
<text x="559.5" y="1077.3" font-size="26.7" text-anchor="middle">0.1</text>
<text x="753.2" y="1077.3" font-size="26.7" text-anchor="middle">0.15</text>
<text x="947.0" y="1077.3" font-size="26.7" text-anchor="middle">0.2</text>
<text x="560" y="1103" font-size="26.7" text-anchor="middle">time from thermal quench [s]</text>
<text transform="translate(40.8 125.8) rotate(-90)" font-size="26.7" text-anchor="middle">[MA]</text>
<text transform="translate(40.8 394.4) rotate(-90)" font-size="26.7" text-anchor="middle">[10<tspan font-size="20.5" dy="-13.9" dx="1">20</tspan><tspan dy="13.9"> m</tspan><tspan font-size="20.5" dy="-13.9" dx="1">−2</tspan><tspan dy="13.9">]</tspan></text>
<text transform="translate(28.2 663.2) rotate(-90)" font-size="26.7" text-anchor="middle">[ s<tspan font-size="20.5" dy="-13.9" dx="1">−1</tspan><tspan dy="13.9">]</tspan></text>
<text transform="translate(41 932) rotate(-90)" font-size="26.7" text-anchor="middle">[m]</text>
<text x="957.5" y="41.4" font-size="29.6">(a)</text>
<text x="957.5" y="310.3" font-size="29.6">(b)</text>
<text x="957.5" y="579.1" font-size="29.6">(c)</text>
<text x="957.5" y="847.9" font-size="29.6">(d)</text>
<text x="853.8" y="123.6" font-size="32.4" font-weight="bold" stroke="none">I<tspan font-size="24.5" dy="16">pla</tspan></text>
<text x="853.5" y="352.9" font-size="32.4" font-weight="bold" stroke="none">n<tspan font-size="24.5" dy="16.5" dx="0.6">e</tspan></text>
<text x="854.5" y="697.8" font-size="32.4" font-weight="bold" stroke="none">neutrons</text>
<text x="853.5" y="890.3" font-size="32.4" font-weight="bold" stroke="none">Z<tspan font-size="24.5" dy="15.8" dx="0.5">p</tspan></text>
<rect x="187.5" y="13.5" width="744" height="38" fill="#fff" stroke="#3a3a3a" stroke-width="1"/>
<line x1="195.9" x2="238.8" y1="32.3" y2="32.3" stroke="#3953A4" stroke-width="4.5"/>
<text x="242.5" y="41.7" font-size="26.7">98185</text>
<line x1="326.6" x2="369.2" y1="32.3" y2="32.3" stroke="#0B8140" stroke-width="4.5"/>
<text x="372.7" y="41.7" font-size="26.7">98182</text>
<line x1="456.8" x2="499.4" y1="32.3" y2="32.3" stroke="#ED1C24" stroke-width="4.5"/>
<text x="503.7" y="41.7" font-size="26.7">98186</text>
<line x1="587.2" x2="629.8" y1="32.3" y2="32.3" stroke="#B856A1" stroke-width="4.5"/>
<text x="633.9" y="41.7" font-size="26.7">98184 − no SPI</text>
<line x1="823.2" x2="867" y1="32.3" y2="32.3" stroke="#231F20" stroke-width="6.2" stroke-dasharray="9.2 9"/>
<text x="870" y="41.7" font-size="26.7">Kick</text>
</g>
</svg>
</body></html>
